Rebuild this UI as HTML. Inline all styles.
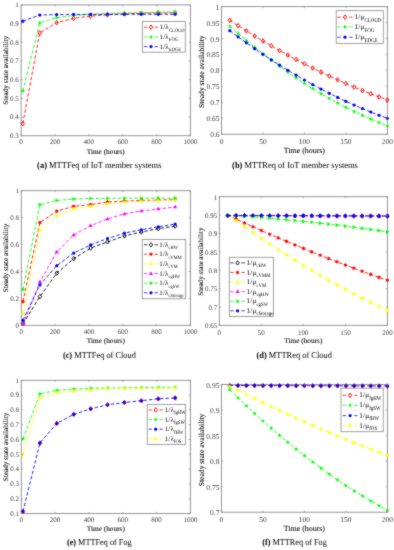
<!DOCTYPE html>
<html><head><meta charset="utf-8"><style>
html,body{margin:0;padding:0;background:#fff;}
svg{display:block;}
text{font-family:"Liberation Serif", serif;text-rendering:geometricPrecision;}
.tk{fill:#3a3a3a;}
.al{fill:#000;stroke:#000;stroke-width:0.08px;}
.lg{fill:#000;letter-spacing:0.2px;}
.lgs{font-size:4.9px;}
.cp{font-size:9.0px;fill:#000;}
</style></head><body>
<svg width="394" height="550" viewBox="0 0 394 550">
<defs><filter id="bl" filterUnits="userSpaceOnUse" x="0" y="0" width="394" height="550" color-interpolation-filters="sRGB"><feConvolveMatrix order="3" kernelMatrix="1 2 1 2 16 2 1 2 1" divisor="28" edgeMode="none"/></filter></defs>
<rect width="394" height="550" fill="#fff"/>
<g filter="url(#bl)">
<rect x="21.1" y="4.9" width="169.3" height="130.85" fill="none" stroke="#8a8a8a" stroke-width="0.9"/>
<path d="M22.79 123.60L39.72 32.94L56.65 22.66L73.58 18.36L90.51 16.12L107.44 14.81L124.37 13.87L141.30 13.31L158.23 12.94L175.16 12.75" fill="none" stroke="#ff0000" stroke-width="0.88" stroke-dasharray="3.4 2.1" opacity="1"/>
<path d="M22.79 121.30L24.45 123.60L22.79 125.90L21.14 123.60Z" fill="none" stroke="#ff0000" stroke-width="0.95"/>
<path d="M39.72 30.64L41.38 32.94L39.72 35.24L38.07 32.94Z" fill="none" stroke="#ff0000" stroke-width="0.95"/>
<path d="M56.65 20.36L58.31 22.66L56.65 24.96L55.00 22.66Z" fill="none" stroke="#ff0000" stroke-width="0.95"/>
<path d="M73.58 16.06L75.24 18.36L73.58 20.66L71.93 18.36Z" fill="none" stroke="#ff0000" stroke-width="0.95"/>
<path d="M90.51 13.82L92.17 16.12L90.51 18.42L88.86 16.12Z" fill="none" stroke="#ff0000" stroke-width="0.95"/>
<path d="M107.44 12.51L109.10 14.81L107.44 17.11L105.79 14.81Z" fill="none" stroke="#ff0000" stroke-width="0.95"/>
<path d="M124.37 11.57L126.03 13.87L124.37 16.17L122.72 13.87Z" fill="none" stroke="#ff0000" stroke-width="0.95"/>
<path d="M141.30 11.01L142.96 13.31L141.30 15.61L139.65 13.31Z" fill="none" stroke="#ff0000" stroke-width="0.95"/>
<path d="M158.23 10.64L159.89 12.94L158.23 15.24L156.58 12.94Z" fill="none" stroke="#ff0000" stroke-width="0.95"/>
<path d="M175.16 10.45L176.82 12.75L175.16 15.05L173.51 12.75Z" fill="none" stroke="#ff0000" stroke-width="0.95"/>
<path d="M22.79 90.89L39.72 23.03L56.65 17.61L73.58 15.55L90.51 14.25L107.44 13.50L124.37 12.94L141.30 12.56L158.23 12.19L175.16 11.82" fill="none" stroke="#00ff00" stroke-width="0.88" stroke-dasharray="3.4 2.1" opacity="1"/>
<path d="M22.79 88.59L23.38 90.08L24.98 90.18L23.74 91.20L24.14 92.75L22.79 91.89L21.44 92.75L21.84 91.20L20.61 90.18L22.21 90.08Z" fill="#00ff00"/>
<path d="M39.72 20.73L40.31 22.22L41.91 22.32L40.67 23.34L41.07 24.89L39.72 24.03L38.37 24.89L38.77 23.34L37.54 22.32L39.14 22.22Z" fill="#00ff00"/>
<path d="M56.65 15.31L57.24 16.80L58.84 16.90L57.60 17.92L58.00 19.47L56.65 18.61L55.30 19.47L55.70 17.92L54.47 16.90L56.07 16.80Z" fill="#00ff00"/>
<path d="M73.58 13.25L74.17 14.75L75.77 14.84L74.53 15.86L74.93 17.42L73.58 16.55L72.23 17.42L72.63 15.86L71.40 14.84L73.00 14.75Z" fill="#00ff00"/>
<path d="M90.51 11.95L91.10 13.44L92.70 13.54L91.46 14.56L91.86 16.11L90.51 15.25L89.16 16.11L89.56 14.56L88.33 13.54L89.93 13.44Z" fill="#00ff00"/>
<path d="M107.44 11.20L108.03 12.69L109.63 12.79L108.39 13.81L108.79 15.36L107.44 14.50L106.09 15.36L106.49 13.81L105.26 12.79L106.86 12.69Z" fill="#00ff00"/>
<path d="M124.37 10.64L124.96 12.13L126.56 12.23L125.32 13.25L125.72 14.80L124.37 13.94L123.02 14.80L123.42 13.25L122.19 12.23L123.79 12.13Z" fill="#00ff00"/>
<path d="M141.30 10.26L141.89 11.76L143.49 11.85L142.25 12.87L142.65 14.42L141.30 13.56L139.95 14.42L140.35 12.87L139.12 11.85L140.72 11.76Z" fill="#00ff00"/>
<path d="M158.23 9.89L158.82 11.38L160.42 11.48L159.18 12.50L159.58 14.05L158.23 13.19L156.88 14.05L157.28 12.50L156.05 11.48L157.65 11.38Z" fill="#00ff00"/>
<path d="M175.16 9.52L175.75 11.01L177.35 11.11L176.11 12.13L176.51 13.68L175.16 12.82L173.81 13.68L174.21 12.13L172.98 11.11L174.58 11.01Z" fill="#00ff00"/>
<path d="M22.79 21.16L39.72 14.99L56.65 14.62L73.58 14.43L90.51 14.43L107.44 14.25L124.37 14.25L141.30 14.25L158.23 14.25L175.16 14.25" fill="none" stroke="#0000ff" stroke-width="0.88" stroke-dasharray="3.4 2.1" opacity="1"/>
<circle cx="22.79" cy="21.16" r="1.60" fill="#0000ff"/>
<circle cx="39.72" cy="14.99" r="1.60" fill="#0000ff"/>
<circle cx="56.65" cy="14.62" r="1.60" fill="#0000ff"/>
<circle cx="73.58" cy="14.43" r="1.60" fill="#0000ff"/>
<circle cx="90.51" cy="14.43" r="1.60" fill="#0000ff"/>
<circle cx="107.44" cy="14.25" r="1.60" fill="#0000ff"/>
<circle cx="124.37" cy="14.25" r="1.60" fill="#0000ff"/>
<circle cx="141.30" cy="14.25" r="1.60" fill="#0000ff"/>
<circle cx="158.23" cy="14.25" r="1.60" fill="#0000ff"/>
<circle cx="175.16" cy="14.25" r="1.60" fill="#0000ff"/>
<path d="M21.10 135.75v-1.6M21.10 4.9v1.6" stroke="#8a8a8a" stroke-width="0.7"/>
<text x="21.10" y="144.35" text-anchor="middle" class="tk" style="font-size:7.0px">0</text>
<path d="M54.96 135.75v-1.6M54.96 4.9v1.6" stroke="#8a8a8a" stroke-width="0.7"/>
<text x="54.96" y="144.35" text-anchor="middle" class="tk" style="font-size:7.0px">200</text>
<path d="M88.82 135.75v-1.6M88.82 4.9v1.6" stroke="#8a8a8a" stroke-width="0.7"/>
<text x="88.82" y="144.35" text-anchor="middle" class="tk" style="font-size:7.0px">400</text>
<path d="M122.68 135.75v-1.6M122.68 4.9v1.6" stroke="#8a8a8a" stroke-width="0.7"/>
<text x="122.68" y="144.35" text-anchor="middle" class="tk" style="font-size:7.0px">600</text>
<path d="M156.54 135.75v-1.6M156.54 4.9v1.6" stroke="#8a8a8a" stroke-width="0.7"/>
<text x="156.54" y="144.35" text-anchor="middle" class="tk" style="font-size:7.0px">800</text>
<path d="M190.40 135.75v-1.6M190.40 4.9v1.6" stroke="#8a8a8a" stroke-width="0.7"/>
<text x="190.40" y="144.35" text-anchor="middle" class="tk" style="font-size:7.0px">1000</text>
<path d="M21.1 135.75h1.6M190.4 135.75h-1.6" stroke="#8a8a8a" stroke-width="0.7"/>
<text x="18.80" y="138.05" text-anchor="end" class="tk" style="font-size:7.0px">0.3</text>
<path d="M21.1 117.06h1.6M190.4 117.06h-1.6" stroke="#8a8a8a" stroke-width="0.7"/>
<text x="18.80" y="119.36" text-anchor="end" class="tk" style="font-size:7.0px">0.4</text>
<path d="M21.1 98.36h1.6M190.4 98.36h-1.6" stroke="#8a8a8a" stroke-width="0.7"/>
<text x="18.80" y="100.66" text-anchor="end" class="tk" style="font-size:7.0px">0.5</text>
<path d="M21.1 79.67h1.6M190.4 79.67h-1.6" stroke="#8a8a8a" stroke-width="0.7"/>
<text x="18.80" y="81.97" text-anchor="end" class="tk" style="font-size:7.0px">0.6</text>
<path d="M21.1 60.98h1.6M190.4 60.98h-1.6" stroke="#8a8a8a" stroke-width="0.7"/>
<text x="18.80" y="63.28" text-anchor="end" class="tk" style="font-size:7.0px">0.7</text>
<path d="M21.1 42.29h1.6M190.4 42.29h-1.6" stroke="#8a8a8a" stroke-width="0.7"/>
<text x="18.80" y="44.59" text-anchor="end" class="tk" style="font-size:7.0px">0.8</text>
<path d="M21.1 23.59h1.6M190.4 23.59h-1.6" stroke="#8a8a8a" stroke-width="0.7"/>
<text x="18.80" y="25.89" text-anchor="end" class="tk" style="font-size:7.0px">0.9</text>
<path d="M21.1 4.90h1.6M190.4 4.90h-1.6" stroke="#8a8a8a" stroke-width="0.7"/>
<text x="18.80" y="7.20" text-anchor="end" class="tk" style="font-size:7.0px">1</text>
<text x="105.75" y="153.55" text-anchor="middle" class="al" style="font-size:7.3px">Time (hours)</text>
<text transform="translate(7.50 70.33) rotate(-90)" x="0" y="0" text-anchor="middle" class="al" style="font-size:7.2px">Steady state availability</text>
<rect x="142.3" y="21.4" width="43.0" height="30.800000000000004" fill="#fff" stroke="#8a8a8a" stroke-width="0.8"/>
<path d="M144.00 27.20h3.4M154.60 27.20H158.00" stroke="#ff0000" stroke-width="0.9" opacity="0.85"/>
<path d="M151.00 24.90L152.66 27.20L151.00 29.50L149.34 27.20Z" fill="none" stroke="#ff0000" stroke-width="0.95"/>
<text x="159.60" y="29.20" class="lg" style="font-size:6.9px">1/λ<tspan dy="2.4" style="font-size:5.17px;letter-spacing:0" textLength="15.50" lengthAdjust="spacingAndGlyphs">CLOUD</tspan></text>
<path d="M144.00 37.00h3.4M154.60 37.00H158.00" stroke="#00ff00" stroke-width="0.9" opacity="0.85"/>
<path d="M151.00 34.70L151.59 36.19L153.19 36.29L151.95 37.31L152.35 38.86L151.00 38.00L149.65 38.86L150.05 37.31L148.81 36.29L150.41 36.19Z" fill="#00ff00"/>
<text x="159.60" y="39.00" class="lg" style="font-size:6.9px">1/λ<tspan dy="2.4" style="font-size:5.17px;letter-spacing:0" textLength="9.00" lengthAdjust="spacingAndGlyphs">FOG</tspan></text>
<path d="M144.00 46.60h3.4M154.60 46.60H158.00" stroke="#0000ff" stroke-width="0.9" opacity="0.85"/>
<circle cx="151.00" cy="46.60" r="1.60" fill="#0000ff"/>
<text x="159.60" y="48.60" class="lg" style="font-size:6.9px">1/λ<tspan dy="2.4" style="font-size:5.17px;letter-spacing:0" textLength="12.00" lengthAdjust="spacingAndGlyphs">EDGE</tspan></text>
<text x="37.10" y="168.20" class="cp" textLength="124.40" lengthAdjust="spacingAndGlyphs"><tspan font-weight="bold">(a)</tspan> MTTFeq of IoT member systems</text>
<rect x="221.5" y="6.6" width="165.85000000000002" height="127.6" fill="none" stroke="#8a8a8a" stroke-width="0.9"/>
<path d="M229.79 20.31L238.09 25.67L246.38 30.90L254.67 36.00L262.96 40.97L271.25 45.81L279.55 50.52L287.84 55.11L296.13 59.56L304.43 63.88L312.72 68.07L321.01 72.14L329.30 76.07L337.60 79.87L345.89 83.54L354.18 87.09L362.47 90.50L370.76 93.78L379.06 96.93L387.35 99.96" fill="none" stroke="#ff0000" stroke-width="0.88" stroke-dasharray="3.4 2.1" opacity="1"/>
<path d="M229.79 18.01L231.45 20.31L229.79 22.61L228.14 20.31Z" fill="none" stroke="#ff0000" stroke-width="0.95"/>
<path d="M238.09 23.37L239.74 25.67L238.09 27.97L236.43 25.67Z" fill="none" stroke="#ff0000" stroke-width="0.95"/>
<path d="M246.38 28.60L248.03 30.90L246.38 33.20L244.72 30.90Z" fill="none" stroke="#ff0000" stroke-width="0.95"/>
<path d="M254.67 33.70L256.33 36.00L254.67 38.30L253.01 36.00Z" fill="none" stroke="#ff0000" stroke-width="0.95"/>
<path d="M262.96 38.67L264.62 40.97L262.96 43.27L261.31 40.97Z" fill="none" stroke="#ff0000" stroke-width="0.95"/>
<path d="M271.25 43.51L272.91 45.81L271.25 48.11L269.60 45.81Z" fill="none" stroke="#ff0000" stroke-width="0.95"/>
<path d="M279.55 48.22L281.20 50.52L279.55 52.82L277.89 50.52Z" fill="none" stroke="#ff0000" stroke-width="0.95"/>
<path d="M287.84 52.81L289.50 55.11L287.84 57.41L286.18 55.11Z" fill="none" stroke="#ff0000" stroke-width="0.95"/>
<path d="M296.13 57.26L297.79 59.56L296.13 61.86L294.48 59.56Z" fill="none" stroke="#ff0000" stroke-width="0.95"/>
<path d="M304.43 61.58L306.08 63.88L304.43 66.18L302.77 63.88Z" fill="none" stroke="#ff0000" stroke-width="0.95"/>
<path d="M312.72 65.77L314.37 68.07L312.72 70.37L311.06 68.07Z" fill="none" stroke="#ff0000" stroke-width="0.95"/>
<path d="M321.01 69.84L322.67 72.14L321.01 74.44L319.35 72.14Z" fill="none" stroke="#ff0000" stroke-width="0.95"/>
<path d="M329.30 73.77L330.96 76.07L329.30 78.37L327.65 76.07Z" fill="none" stroke="#ff0000" stroke-width="0.95"/>
<path d="M337.60 77.57L339.25 79.87L337.60 82.17L335.94 79.87Z" fill="none" stroke="#ff0000" stroke-width="0.95"/>
<path d="M345.89 81.24L347.54 83.54L345.89 85.84L344.23 83.54Z" fill="none" stroke="#ff0000" stroke-width="0.95"/>
<path d="M354.18 84.79L355.84 87.09L354.18 89.39L352.52 87.09Z" fill="none" stroke="#ff0000" stroke-width="0.95"/>
<path d="M362.47 88.20L364.13 90.50L362.47 92.80L360.82 90.50Z" fill="none" stroke="#ff0000" stroke-width="0.95"/>
<path d="M370.76 91.48L372.42 93.78L370.76 96.08L369.11 93.78Z" fill="none" stroke="#ff0000" stroke-width="0.95"/>
<path d="M379.06 94.63L380.71 96.93L379.06 99.23L377.40 96.93Z" fill="none" stroke="#ff0000" stroke-width="0.95"/>
<path d="M387.35 97.66L389.01 99.96L387.35 102.26L385.69 99.96Z" fill="none" stroke="#ff0000" stroke-width="0.95"/>
<path d="M229.79 26.22L238.09 33.45L246.38 40.46L254.67 47.25L262.96 53.82L271.25 60.17L279.55 66.29L287.84 72.20L296.13 77.88L304.43 83.35L312.72 88.59L321.01 93.61L329.30 98.40L337.60 102.98L345.89 107.34L354.18 111.47L362.47 115.39L370.76 119.08L379.06 122.55L387.35 125.80" fill="none" stroke="#00ff00" stroke-width="0.88" stroke-dasharray="3.4 2.1" opacity="1"/>
<path d="M229.79 23.92L230.38 25.41L231.98 25.51L230.74 26.53L231.14 28.08L229.79 27.22L228.44 28.08L228.84 26.53L227.61 25.51L229.20 25.41Z" fill="#00ff00"/>
<path d="M238.09 31.15L238.67 32.64L240.27 32.74L239.04 33.76L239.44 35.31L238.09 34.45L236.73 35.31L237.13 33.76L235.90 32.74L237.50 32.64Z" fill="#00ff00"/>
<path d="M246.38 38.16L246.97 39.65L248.56 39.75L247.33 40.77L247.73 42.32L246.38 41.46L245.03 42.32L245.43 40.77L244.19 39.75L245.79 39.65Z" fill="#00ff00"/>
<path d="M254.67 44.95L255.26 46.44L256.86 46.54L255.62 47.56L256.02 49.11L254.67 48.25L253.32 49.11L253.72 47.56L252.48 46.54L254.08 46.44Z" fill="#00ff00"/>
<path d="M262.96 51.52L263.55 53.01L265.15 53.11L263.91 54.13L264.31 55.68L262.96 54.82L261.61 55.68L262.01 54.13L260.78 53.11L262.37 53.01Z" fill="#00ff00"/>
<path d="M271.25 57.87L271.84 59.36L273.44 59.46L272.21 60.48L272.61 62.03L271.25 61.17L269.90 62.03L270.30 60.48L269.07 59.46L270.67 59.36Z" fill="#00ff00"/>
<path d="M279.55 63.99L280.14 65.49L281.73 65.58L280.50 66.60L280.90 68.16L279.55 67.29L278.20 68.16L278.60 66.60L277.36 65.58L278.96 65.49Z" fill="#00ff00"/>
<path d="M287.84 69.90L288.43 71.39L290.03 71.49L288.79 72.51L289.19 74.06L287.84 73.20L286.49 74.06L286.89 72.51L285.65 71.49L287.25 71.39Z" fill="#00ff00"/>
<path d="M296.13 75.58L296.72 77.07L298.32 77.17L297.08 78.19L297.48 79.74L296.13 78.88L294.78 79.74L295.18 78.19L293.95 77.17L295.54 77.07Z" fill="#00ff00"/>
<path d="M304.43 81.05L305.01 82.54L306.61 82.63L305.38 83.65L305.78 85.21L304.43 84.35L303.07 85.21L303.47 83.65L302.24 82.63L303.84 82.54Z" fill="#00ff00"/>
<path d="M312.72 86.29L313.31 87.78L314.90 87.88L313.67 88.90L314.07 90.45L312.72 89.59L311.37 90.45L311.77 88.90L310.53 87.88L312.13 87.78Z" fill="#00ff00"/>
<path d="M321.01 91.31L321.60 92.80L323.20 92.90L321.96 93.91L322.36 95.47L321.01 94.61L319.66 95.47L320.06 93.91L318.82 92.90L320.42 92.80Z" fill="#00ff00"/>
<path d="M329.30 96.10L329.89 97.60L331.49 97.69L330.25 98.71L330.65 100.27L329.30 99.40L327.95 100.27L328.35 98.71L327.12 97.69L328.71 97.60Z" fill="#00ff00"/>
<path d="M337.60 100.68L338.18 102.17L339.78 102.27L338.55 103.29L338.95 104.84L337.60 103.98L336.24 104.84L336.64 103.29L335.41 102.27L337.01 102.17Z" fill="#00ff00"/>
<path d="M345.89 105.04L346.48 106.53L348.07 106.63L346.84 107.65L347.24 109.20L345.89 108.34L344.54 109.20L344.94 107.65L343.70 106.63L345.30 106.53Z" fill="#00ff00"/>
<path d="M354.18 109.17L354.77 110.66L356.37 110.76L355.13 111.78L355.53 113.33L354.18 112.47L352.83 113.33L353.23 111.78L351.99 110.76L353.59 110.66Z" fill="#00ff00"/>
<path d="M362.47 113.09L363.06 114.58L364.66 114.67L363.42 115.69L363.82 117.25L362.47 116.39L361.12 117.25L361.52 115.69L360.29 114.67L361.88 114.58Z" fill="#00ff00"/>
<path d="M370.76 116.78L371.35 118.27L372.95 118.37L371.72 119.39L372.12 120.94L370.76 120.08L369.41 120.94L369.81 119.39L368.58 118.37L370.18 118.27Z" fill="#00ff00"/>
<path d="M379.06 120.25L379.65 121.74L381.24 121.84L380.01 122.86L380.41 124.41L379.06 123.55L377.71 124.41L378.11 122.86L376.87 121.84L378.47 121.74Z" fill="#00ff00"/>
<path d="M387.35 123.50L387.94 124.99L389.54 125.09L388.30 126.11L388.70 127.66L387.35 126.80L386.00 127.66L386.40 126.11L385.16 125.09L386.76 124.99Z" fill="#00ff00"/>
<path d="M229.79 30.65L238.09 36.83L246.38 42.84L254.67 48.67L262.96 54.33L271.25 59.81L279.55 65.12L287.84 70.25L296.13 75.21L304.43 80.00L312.72 84.61L321.01 89.05L329.30 93.31L337.60 97.40L345.89 101.31L354.18 105.05L362.47 108.62L370.76 112.01L379.06 115.23L387.35 118.27" fill="none" stroke="#0000ff" stroke-width="0.88" stroke-dasharray="3.4 2.1" opacity="1"/>
<circle cx="229.79" cy="30.65" r="1.60" fill="#0000ff"/>
<circle cx="238.09" cy="36.83" r="1.60" fill="#0000ff"/>
<circle cx="246.38" cy="42.84" r="1.60" fill="#0000ff"/>
<circle cx="254.67" cy="48.67" r="1.60" fill="#0000ff"/>
<circle cx="262.96" cy="54.33" r="1.60" fill="#0000ff"/>
<circle cx="271.25" cy="59.81" r="1.60" fill="#0000ff"/>
<circle cx="279.55" cy="65.12" r="1.60" fill="#0000ff"/>
<circle cx="287.84" cy="70.25" r="1.60" fill="#0000ff"/>
<circle cx="296.13" cy="75.21" r="1.60" fill="#0000ff"/>
<circle cx="304.43" cy="80.00" r="1.60" fill="#0000ff"/>
<circle cx="312.72" cy="84.61" r="1.60" fill="#0000ff"/>
<circle cx="321.01" cy="89.05" r="1.60" fill="#0000ff"/>
<circle cx="329.30" cy="93.31" r="1.60" fill="#0000ff"/>
<circle cx="337.60" cy="97.40" r="1.60" fill="#0000ff"/>
<circle cx="345.89" cy="101.31" r="1.60" fill="#0000ff"/>
<circle cx="354.18" cy="105.05" r="1.60" fill="#0000ff"/>
<circle cx="362.47" cy="108.62" r="1.60" fill="#0000ff"/>
<circle cx="370.76" cy="112.01" r="1.60" fill="#0000ff"/>
<circle cx="379.06" cy="115.23" r="1.60" fill="#0000ff"/>
<circle cx="387.35" cy="118.27" r="1.60" fill="#0000ff"/>
<path d="M221.50 134.2v-1.6M221.50 6.6v1.6" stroke="#8a8a8a" stroke-width="0.7"/>
<text x="221.50" y="144.00" text-anchor="middle" class="tk" style="font-size:7.5px">0</text>
<path d="M262.96 134.2v-1.6M262.96 6.6v1.6" stroke="#8a8a8a" stroke-width="0.7"/>
<text x="262.96" y="144.00" text-anchor="middle" class="tk" style="font-size:7.5px">50</text>
<path d="M304.43 134.2v-1.6M304.43 6.6v1.6" stroke="#8a8a8a" stroke-width="0.7"/>
<text x="304.43" y="144.00" text-anchor="middle" class="tk" style="font-size:7.5px">100</text>
<path d="M345.89 134.2v-1.6M345.89 6.6v1.6" stroke="#8a8a8a" stroke-width="0.7"/>
<text x="345.89" y="144.00" text-anchor="middle" class="tk" style="font-size:7.5px">150</text>
<path d="M387.35 134.2v-1.6M387.35 6.6v1.6" stroke="#8a8a8a" stroke-width="0.7"/>
<text x="387.35" y="144.00" text-anchor="middle" class="tk" style="font-size:7.5px">200</text>
<path d="M221.5 134.20h1.6M387.35 134.20h-1.6" stroke="#8a8a8a" stroke-width="0.7"/>
<text x="219.50" y="137.20" text-anchor="end" class="tk" style="font-size:7.5px">0.6</text>
<path d="M221.5 118.25h1.6M387.35 118.25h-1.6" stroke="#8a8a8a" stroke-width="0.7"/>
<text x="219.50" y="121.25" text-anchor="end" class="tk" style="font-size:7.5px">0.65</text>
<path d="M221.5 102.30h1.6M387.35 102.30h-1.6" stroke="#8a8a8a" stroke-width="0.7"/>
<text x="219.50" y="105.30" text-anchor="end" class="tk" style="font-size:7.5px">0.7</text>
<path d="M221.5 86.35h1.6M387.35 86.35h-1.6" stroke="#8a8a8a" stroke-width="0.7"/>
<text x="219.50" y="89.35" text-anchor="end" class="tk" style="font-size:7.5px">0.75</text>
<path d="M221.5 70.40h1.6M387.35 70.40h-1.6" stroke="#8a8a8a" stroke-width="0.7"/>
<text x="219.50" y="73.40" text-anchor="end" class="tk" style="font-size:7.5px">0.8</text>
<path d="M221.5 54.45h1.6M387.35 54.45h-1.6" stroke="#8a8a8a" stroke-width="0.7"/>
<text x="219.50" y="57.45" text-anchor="end" class="tk" style="font-size:7.5px">0.85</text>
<path d="M221.5 38.50h1.6M387.35 38.50h-1.6" stroke="#8a8a8a" stroke-width="0.7"/>
<text x="219.50" y="41.50" text-anchor="end" class="tk" style="font-size:7.5px">0.9</text>
<path d="M221.5 22.55h1.6M387.35 22.55h-1.6" stroke="#8a8a8a" stroke-width="0.7"/>
<text x="219.50" y="25.55" text-anchor="end" class="tk" style="font-size:7.5px">0.95</text>
<path d="M221.5 6.60h1.6M387.35 6.60h-1.6" stroke="#8a8a8a" stroke-width="0.7"/>
<text x="219.50" y="9.60" text-anchor="end" class="tk" style="font-size:7.5px">1</text>
<text x="304.43" y="153.40" text-anchor="middle" class="al" style="font-size:7.9px">Time (hours)</text>
<text transform="translate(203.80 71.70) rotate(-90)" x="0" y="0" text-anchor="middle" class="al" style="font-size:7.6px">Steady state availability</text>
<rect x="336.2" y="10.7" width="47.10000000000002" height="32.8" fill="#fff" stroke="#8a8a8a" stroke-width="0.8"/>
<path d="M337.30 17.20h3.4M349.30 17.20H352.70" stroke="#ff0000" stroke-width="0.9" opacity="0.85"/>
<path d="M345.00 14.90L346.66 17.20L345.00 19.50L343.34 17.20Z" fill="none" stroke="#ff0000" stroke-width="0.95"/>
<text x="354.40" y="19.30" class="lg" style="font-size:7.2px">1/μ<tspan dy="2.5" style="font-size:5.63px;letter-spacing:0" textLength="16.88" lengthAdjust="spacingAndGlyphs">CLOUD</tspan></text>
<path d="M337.30 26.90h3.4M349.30 26.90H352.70" stroke="#00ff00" stroke-width="0.9" opacity="0.85"/>
<path d="M345.00 24.60L345.59 26.09L347.19 26.19L345.95 27.21L346.35 28.76L345.00 27.90L343.65 28.76L344.05 27.21L342.81 26.19L344.41 26.09Z" fill="#00ff00"/>
<text x="354.40" y="29.00" class="lg" style="font-size:7.2px">1/μ<tspan dy="2.5" style="font-size:5.63px;letter-spacing:0" textLength="9.80" lengthAdjust="spacingAndGlyphs">FOG</tspan></text>
<path d="M337.30 37.20h3.4M349.30 37.20H352.70" stroke="#0000ff" stroke-width="0.9" opacity="0.85"/>
<circle cx="345.00" cy="37.20" r="1.60" fill="#0000ff"/>
<text x="354.40" y="39.30" class="lg" style="font-size:7.2px">1/μ<tspan dy="2.5" style="font-size:5.63px;letter-spacing:0" textLength="13.06" lengthAdjust="spacingAndGlyphs">EDGE</tspan></text>
<text x="232.10" y="168.20" class="cp" textLength="125.80" lengthAdjust="spacingAndGlyphs"><tspan font-weight="bold">(b)</tspan> MTTReq of IoT member systems</text>
<rect x="21.3" y="190.7" width="169.1" height="134.65000000000003" fill="none" stroke="#8a8a8a" stroke-width="0.9"/>
<path d="M22.99 323.73L39.90 296.53L56.81 273.11L73.72 258.70L90.63 248.06L107.54 241.87L124.45 235.94L141.36 232.04L158.27 228.67L175.18 226.11" fill="none" stroke="#000000" stroke-width="0.88" stroke-dasharray="3.4 2.1" opacity="1"/>
<path d="M22.99 321.53L24.75 323.73L22.99 325.93L21.23 323.73Z" fill="none" stroke="#000000" stroke-width="0.9"/>
<path d="M39.90 294.33L41.66 296.53L39.90 298.73L38.14 296.53Z" fill="none" stroke="#000000" stroke-width="0.9"/>
<path d="M56.81 270.91L58.57 273.11L56.81 275.31L55.05 273.11Z" fill="none" stroke="#000000" stroke-width="0.9"/>
<path d="M73.72 256.50L75.48 258.70L73.72 260.90L71.96 258.70Z" fill="none" stroke="#000000" stroke-width="0.9"/>
<path d="M90.63 245.86L92.39 248.06L90.63 250.26L88.87 248.06Z" fill="none" stroke="#000000" stroke-width="0.9"/>
<path d="M107.54 239.67L109.30 241.87L107.54 244.07L105.78 241.87Z" fill="none" stroke="#000000" stroke-width="0.9"/>
<path d="M124.45 233.74L126.21 235.94L124.45 238.14L122.69 235.94Z" fill="none" stroke="#000000" stroke-width="0.9"/>
<path d="M141.36 229.84L143.12 232.04L141.36 234.24L139.60 232.04Z" fill="none" stroke="#000000" stroke-width="0.9"/>
<path d="M158.27 226.47L160.03 228.67L158.27 230.87L156.51 228.67Z" fill="none" stroke="#000000" stroke-width="0.9"/>
<path d="M175.18 223.91L176.94 226.11L175.18 228.31L173.42 226.11Z" fill="none" stroke="#000000" stroke-width="0.9"/>
<path d="M22.99 301.65L39.90 222.48L56.81 211.17L73.72 206.32L90.63 204.57L107.54 202.01L124.45 201.20L141.36 200.39L158.27 200.13L175.18 199.59" fill="none" stroke="#ff0000" stroke-width="0.88" stroke-dasharray="3.4 2.1" opacity="1"/>
<path d="M22.99 299.35L23.59 300.61L24.98 300.50L24.19 301.65L24.98 302.80L23.59 302.69L22.99 303.95L22.39 302.69L21.00 302.80L21.79 301.65L21.00 300.50L22.39 300.61Z" fill="#ff0000"/>
<path d="M39.90 220.18L40.50 221.44L41.89 221.33L41.10 222.48L41.89 223.63L40.50 223.52L39.90 224.78L39.30 223.52L37.91 223.63L38.70 222.48L37.91 221.33L39.30 221.44Z" fill="#ff0000"/>
<path d="M56.81 208.87L57.41 210.13L58.80 210.02L58.01 211.17L58.80 212.32L57.41 212.21L56.81 213.47L56.21 212.21L54.82 212.32L55.61 211.17L54.82 210.02L56.21 210.13Z" fill="#ff0000"/>
<path d="M73.72 204.02L74.32 205.28L75.71 205.17L74.92 206.32L75.71 207.47L74.32 207.36L73.72 208.62L73.12 207.36L71.73 207.47L72.52 206.32L71.73 205.17L73.12 205.28Z" fill="#ff0000"/>
<path d="M90.63 202.27L91.23 203.53L92.62 203.42L91.83 204.57L92.62 205.72L91.23 205.61L90.63 206.87L90.03 205.61L88.64 205.72L89.43 204.57L88.64 203.42L90.03 203.53Z" fill="#ff0000"/>
<path d="M107.54 199.71L108.14 200.97L109.53 200.86L108.74 202.01L109.53 203.16L108.14 203.05L107.54 204.31L106.94 203.05L105.55 203.16L106.34 202.01L105.55 200.86L106.94 200.97Z" fill="#ff0000"/>
<path d="M124.45 198.90L125.05 200.16L126.44 200.05L125.65 201.20L126.44 202.35L125.05 202.24L124.45 203.50L123.85 202.24L122.46 202.35L123.25 201.20L122.46 200.05L123.85 200.16Z" fill="#ff0000"/>
<path d="M141.36 198.09L141.96 199.36L143.35 199.24L142.56 200.39L143.35 201.54L141.96 201.43L141.36 202.69L140.76 201.43L139.37 201.54L140.16 200.39L139.37 199.24L140.76 199.36Z" fill="#ff0000"/>
<path d="M158.27 197.83L158.87 199.09L160.26 198.98L159.47 200.13L160.26 201.28L158.87 201.16L158.27 202.43L157.67 201.16L156.28 201.28L157.07 200.13L156.28 198.98L157.67 199.09Z" fill="#ff0000"/>
<path d="M175.18 197.29L175.78 198.55L177.17 198.44L176.38 199.59L177.17 200.74L175.78 200.63L175.18 201.89L174.58 200.63L173.19 200.74L173.98 199.59L173.19 198.44L174.58 198.55Z" fill="#ff0000"/>
<path d="M22.99 313.50L39.90 230.29L56.81 215.74L73.72 208.88L90.63 206.18L107.54 203.63L124.45 202.01L141.36 201.20L158.27 200.66L175.18 200.26" fill="none" stroke="#ffff00" stroke-width="0.88" stroke-dasharray="3.4 2.1" opacity="1"/>
<circle cx="22.99" cy="313.50" r="1.60" fill="#ffff00"/>
<circle cx="39.90" cy="230.29" r="1.60" fill="#ffff00"/>
<circle cx="56.81" cy="215.74" r="1.60" fill="#ffff00"/>
<circle cx="73.72" cy="208.88" r="1.60" fill="#ffff00"/>
<circle cx="90.63" cy="206.18" r="1.60" fill="#ffff00"/>
<circle cx="107.54" cy="203.63" r="1.60" fill="#ffff00"/>
<circle cx="124.45" cy="202.01" r="1.60" fill="#ffff00"/>
<circle cx="141.36" cy="201.20" r="1.60" fill="#ffff00"/>
<circle cx="158.27" cy="200.66" r="1.60" fill="#ffff00"/>
<circle cx="175.18" cy="200.26" r="1.60" fill="#ffff00"/>
<path d="M22.99 324.54L39.90 281.86L56.81 251.97L73.72 234.87L90.63 225.71L107.54 218.98L124.45 213.86L141.36 210.90L158.27 209.01L175.18 206.99" fill="none" stroke="#ff00ff" stroke-width="0.88" stroke-dasharray="3.4 2.1" opacity="1"/>
<path d="M22.99 322.34L25.08 325.86L20.90 325.86Z" fill="#ff00ff"/>
<path d="M39.90 279.66L41.99 283.18L37.81 283.18Z" fill="#ff00ff"/>
<path d="M56.81 249.77L58.90 253.29L54.72 253.29Z" fill="#ff00ff"/>
<path d="M73.72 232.67L75.81 236.19L71.63 236.19Z" fill="#ff00ff"/>
<path d="M90.63 223.51L92.72 227.03L88.54 227.03Z" fill="#ff00ff"/>
<path d="M107.54 216.78L109.63 220.30L105.45 220.30Z" fill="#ff00ff"/>
<path d="M124.45 211.66L126.54 215.18L122.36 215.18Z" fill="#ff00ff"/>
<path d="M141.36 208.70L143.45 212.22L139.27 212.22Z" fill="#ff00ff"/>
<path d="M158.27 206.81L160.36 210.33L156.18 210.33Z" fill="#ff00ff"/>
<path d="M175.18 204.79L177.27 208.31L173.09 208.31Z" fill="#ff00ff"/>
<path d="M22.99 289.53L39.90 204.70L56.81 200.53L73.72 199.05L90.63 198.51L107.54 198.38L124.45 198.24L141.36 198.24L158.27 198.11L175.18 198.11" fill="none" stroke="#00ff00" stroke-width="0.88" stroke-dasharray="3.4 2.1" opacity="1"/>
<path d="M25.19 289.53L21.67 287.44L21.67 291.62Z" fill="#00ff00"/>
<path d="M42.10 204.70L38.58 202.61L38.58 206.79Z" fill="#00ff00"/>
<path d="M59.01 200.53L55.49 198.44L55.49 202.62Z" fill="#00ff00"/>
<path d="M75.92 199.05L72.40 196.96L72.40 201.14Z" fill="#00ff00"/>
<path d="M92.83 198.51L89.31 196.42L89.31 200.60Z" fill="#00ff00"/>
<path d="M109.74 198.38L106.22 196.29L106.22 200.47Z" fill="#00ff00"/>
<path d="M126.65 198.24L123.13 196.15L123.13 200.33Z" fill="#00ff00"/>
<path d="M143.56 198.24L140.04 196.15L140.04 200.33Z" fill="#00ff00"/>
<path d="M160.47 198.11L156.95 196.02L156.95 200.20Z" fill="#00ff00"/>
<path d="M177.38 198.11L173.86 196.02L173.86 200.20Z" fill="#00ff00"/>
<path d="M22.99 320.23L39.90 284.96L56.81 265.70L73.72 253.04L90.63 244.96L107.54 238.50L124.45 233.11L141.36 229.75L158.27 226.79L175.18 224.09" fill="none" stroke="#0000ff" stroke-width="0.88" stroke-dasharray="3.4 2.1" opacity="1"/>
<circle cx="22.99" cy="320.23" r="1.60" fill="#0000ff"/>
<circle cx="39.90" cy="284.96" r="1.60" fill="#0000ff"/>
<circle cx="56.81" cy="265.70" r="1.60" fill="#0000ff"/>
<circle cx="73.72" cy="253.04" r="1.60" fill="#0000ff"/>
<circle cx="90.63" cy="244.96" r="1.60" fill="#0000ff"/>
<circle cx="107.54" cy="238.50" r="1.60" fill="#0000ff"/>
<circle cx="124.45" cy="233.11" r="1.60" fill="#0000ff"/>
<circle cx="141.36" cy="229.75" r="1.60" fill="#0000ff"/>
<circle cx="158.27" cy="226.79" r="1.60" fill="#0000ff"/>
<circle cx="175.18" cy="224.09" r="1.60" fill="#0000ff"/>
<path d="M21.30 325.35v-1.6M21.30 190.7v1.6" stroke="#8a8a8a" stroke-width="0.7"/>
<text x="21.30" y="333.95" text-anchor="middle" class="tk" style="font-size:7.0px">0</text>
<path d="M55.12 325.35v-1.6M55.12 190.7v1.6" stroke="#8a8a8a" stroke-width="0.7"/>
<text x="55.12" y="333.95" text-anchor="middle" class="tk" style="font-size:7.0px">200</text>
<path d="M88.94 325.35v-1.6M88.94 190.7v1.6" stroke="#8a8a8a" stroke-width="0.7"/>
<text x="88.94" y="333.95" text-anchor="middle" class="tk" style="font-size:7.0px">400</text>
<path d="M122.76 325.35v-1.6M122.76 190.7v1.6" stroke="#8a8a8a" stroke-width="0.7"/>
<text x="122.76" y="333.95" text-anchor="middle" class="tk" style="font-size:7.0px">600</text>
<path d="M156.58 325.35v-1.6M156.58 190.7v1.6" stroke="#8a8a8a" stroke-width="0.7"/>
<text x="156.58" y="333.95" text-anchor="middle" class="tk" style="font-size:7.0px">800</text>
<path d="M190.40 325.35v-1.6M190.40 190.7v1.6" stroke="#8a8a8a" stroke-width="0.7"/>
<text x="190.40" y="333.95" text-anchor="middle" class="tk" style="font-size:7.0px">1000</text>
<path d="M21.3 325.35h1.6M190.4 325.35h-1.6" stroke="#8a8a8a" stroke-width="0.7"/>
<text x="19.00" y="327.65" text-anchor="end" class="tk" style="font-size:7.0px">0</text>
<path d="M21.3 298.42h1.6M190.4 298.42h-1.6" stroke="#8a8a8a" stroke-width="0.7"/>
<text x="19.00" y="300.72" text-anchor="end" class="tk" style="font-size:7.0px">0.2</text>
<path d="M21.3 271.49h1.6M190.4 271.49h-1.6" stroke="#8a8a8a" stroke-width="0.7"/>
<text x="19.00" y="273.79" text-anchor="end" class="tk" style="font-size:7.0px">0.4</text>
<path d="M21.3 244.56h1.6M190.4 244.56h-1.6" stroke="#8a8a8a" stroke-width="0.7"/>
<text x="19.00" y="246.86" text-anchor="end" class="tk" style="font-size:7.0px">0.6</text>
<path d="M21.3 217.63h1.6M190.4 217.63h-1.6" stroke="#8a8a8a" stroke-width="0.7"/>
<text x="19.00" y="219.93" text-anchor="end" class="tk" style="font-size:7.0px">0.8</text>
<path d="M21.3 190.70h1.6M190.4 190.70h-1.6" stroke="#8a8a8a" stroke-width="0.7"/>
<text x="19.00" y="193.00" text-anchor="end" class="tk" style="font-size:7.0px">1</text>
<text x="105.85" y="343.15" text-anchor="middle" class="al" style="font-size:7.3px">Time (hours)</text>
<text transform="translate(7.50 258.02) rotate(-90)" x="0" y="0" text-anchor="middle" class="al" style="font-size:7.2px">Steady state availability</text>
<rect x="142.2" y="239.4" width="43.5" height="59.400000000000006" fill="#fff" stroke="#8a8a8a" stroke-width="0.8"/>
<path d="M144.00 244.80h3.4M154.60 244.80H158.00" stroke="#000000" stroke-width="0.9" opacity="0.85"/>
<path d="M151.00 242.60L152.76 244.80L151.00 247.00L149.24 244.80Z" fill="none" stroke="#000000" stroke-width="0.9"/>
<text x="159.30" y="246.80" class="lg" style="font-size:6.9px">1/λ<tspan dy="2.3" style="font-size:5.06px;letter-spacing:0" textLength="9.28" lengthAdjust="spacingAndGlyphs">cHW</tspan></text>
<path d="M144.00 254.20h3.4M154.60 254.20H158.00" stroke="#ff0000" stroke-width="0.9" opacity="0.85"/>
<path d="M151.00 251.90L151.60 253.16L152.99 253.05L152.20 254.20L152.99 255.35L151.60 255.24L151.00 256.50L150.40 255.24L149.01 255.35L149.80 254.20L149.01 253.05L150.40 253.16Z" fill="#ff0000"/>
<text x="159.30" y="256.20" class="lg" style="font-size:6.9px">1/λ<tspan dy="2.3" style="font-size:5.06px;letter-spacing:0" textLength="12.96" lengthAdjust="spacingAndGlyphs">cVMM</tspan></text>
<path d="M144.00 263.80h3.4M154.60 263.80H158.00" stroke="#ffff00" stroke-width="0.9" opacity="0.85"/>
<circle cx="151.00" cy="263.80" r="1.60" fill="#ffff00"/>
<text x="159.30" y="265.80" class="lg" style="font-size:6.9px">1/λ<tspan dy="2.3" style="font-size:5.06px;letter-spacing:0" textLength="9.04" lengthAdjust="spacingAndGlyphs">cVM</tspan></text>
<path d="M144.00 273.60h3.4M154.60 273.60H158.00" stroke="#ff00ff" stroke-width="0.9" opacity="0.85"/>
<path d="M151.00 271.40L153.09 274.92L148.91 274.92Z" fill="#ff00ff"/>
<text x="159.30" y="275.60" class="lg" style="font-size:6.9px">1/λ<tspan dy="2.3" style="font-size:5.06px;letter-spacing:0" textLength="11.48" lengthAdjust="spacingAndGlyphs">cgHW</tspan></text>
<path d="M144.00 283.20h3.4M154.60 283.20H158.00" stroke="#00ff00" stroke-width="0.9" opacity="0.85"/>
<path d="M153.20 283.20L149.68 281.11L149.68 285.29Z" fill="#00ff00"/>
<text x="159.30" y="285.20" class="lg" style="font-size:6.9px">1/λ<tspan dy="2.3" style="font-size:5.06px;letter-spacing:0" textLength="10.75" lengthAdjust="spacingAndGlyphs">cgSW</tspan></text>
<path d="M144.00 292.80h3.4M154.60 292.80H158.00" stroke="#0000ff" stroke-width="0.9" opacity="0.85"/>
<circle cx="151.00" cy="292.80" r="1.60" fill="#0000ff"/>
<text x="159.30" y="294.80" class="lg" style="font-size:6.9px">1/λ<tspan dy="2.3" style="font-size:5.06px;letter-spacing:0" textLength="15.39" lengthAdjust="spacingAndGlyphs">cStorage</tspan></text>
<text x="62.90" y="358.20" class="cp" textLength="72.90" lengthAdjust="spacingAndGlyphs"><tspan font-weight="bold">(c)</tspan> MTTFeq of Cloud</text>
<rect x="219.3" y="196.7" width="168.09999999999997" height="128.65000000000003" fill="none" stroke="#8a8a8a" stroke-width="0.9"/>
<path d="M227.71 213.39L229.47 215.59L227.71 217.79L225.95 215.59Z" fill="none" stroke="#000000" stroke-width="0.9"/>
<path d="M236.11 213.42L237.87 215.62L236.11 217.82L234.35 215.62Z" fill="none" stroke="#000000" stroke-width="0.9"/>
<path d="M244.52 213.45L246.28 215.65L244.52 217.85L242.76 215.65Z" fill="none" stroke="#000000" stroke-width="0.9"/>
<path d="M252.92 213.47L254.68 215.67L252.92 217.87L251.16 215.67Z" fill="none" stroke="#000000" stroke-width="0.9"/>
<path d="M261.32 213.50L263.08 215.70L261.32 217.90L259.56 215.70Z" fill="none" stroke="#000000" stroke-width="0.9"/>
<path d="M269.73 213.53L271.49 215.73L269.73 217.93L267.97 215.73Z" fill="none" stroke="#000000" stroke-width="0.9"/>
<path d="M278.13 213.56L279.89 215.76L278.13 217.96L276.38 215.76Z" fill="none" stroke="#000000" stroke-width="0.9"/>
<path d="M286.54 213.58L288.30 215.78L286.54 217.98L284.78 215.78Z" fill="none" stroke="#000000" stroke-width="0.9"/>
<path d="M294.94 213.61L296.70 215.81L294.94 218.01L293.19 215.81Z" fill="none" stroke="#000000" stroke-width="0.9"/>
<path d="M303.35 213.64L305.11 215.84L303.35 218.04L301.59 215.84Z" fill="none" stroke="#000000" stroke-width="0.9"/>
<path d="M311.75 213.66L313.51 215.86L311.75 218.06L310.00 215.86Z" fill="none" stroke="#000000" stroke-width="0.9"/>
<path d="M320.16 213.69L321.92 215.89L320.16 218.09L318.40 215.89Z" fill="none" stroke="#000000" stroke-width="0.9"/>
<path d="M328.56 213.72L330.32 215.92L328.56 218.12L326.81 215.92Z" fill="none" stroke="#000000" stroke-width="0.9"/>
<path d="M336.97 213.75L338.73 215.95L336.97 218.15L335.21 215.95Z" fill="none" stroke="#000000" stroke-width="0.9"/>
<path d="M345.38 213.77L347.13 215.97L345.38 218.17L343.62 215.97Z" fill="none" stroke="#000000" stroke-width="0.9"/>
<path d="M353.78 213.80L355.54 216.00L353.78 218.20L352.02 216.00Z" fill="none" stroke="#000000" stroke-width="0.9"/>
<path d="M362.18 213.83L363.94 216.03L362.18 218.23L360.42 216.03Z" fill="none" stroke="#000000" stroke-width="0.9"/>
<path d="M370.59 213.85L372.35 216.05L370.59 218.25L368.83 216.05Z" fill="none" stroke="#000000" stroke-width="0.9"/>
<path d="M379.00 213.88L380.75 216.08L379.00 218.28L377.24 216.08Z" fill="none" stroke="#000000" stroke-width="0.9"/>
<path d="M387.40 213.91L389.16 216.11L387.40 218.31L385.64 216.11Z" fill="none" stroke="#000000" stroke-width="0.9"/>
<path d="M227.71 215.26L236.11 219.15L244.52 222.99L252.92 226.78L261.32 230.52L269.73 234.20L278.13 237.83L286.54 241.41L294.94 244.94L303.35 248.41L311.75 251.84L320.16 255.21L328.56 258.53L336.97 261.79L345.38 265.01L353.78 268.17L362.18 271.28L370.59 274.34L379.00 277.35L387.40 280.30" fill="none" stroke="#ff0000" stroke-width="0.88" stroke-dasharray="3.4 2.1" opacity="1"/>
<path d="M227.71 212.96L228.31 214.22L229.70 214.11L228.91 215.26L229.70 216.41L228.31 216.30L227.71 217.56L227.11 216.30L225.71 216.41L226.51 215.26L225.71 214.11L227.11 214.22Z" fill="#ff0000"/>
<path d="M236.11 216.85L236.71 218.11L238.10 218.00L237.31 219.15L238.10 220.30L236.71 220.19L236.11 221.45L235.51 220.19L234.12 220.30L234.91 219.15L234.12 218.00L235.51 218.11Z" fill="#ff0000"/>
<path d="M244.52 220.69L245.12 221.95L246.51 221.84L245.72 222.99L246.51 224.14L245.12 224.03L244.52 225.29L243.92 224.03L242.52 224.14L243.32 222.99L242.52 221.84L243.92 221.95Z" fill="#ff0000"/>
<path d="M252.92 224.48L253.52 225.74L254.91 225.63L254.12 226.78L254.91 227.93L253.52 227.82L252.92 229.08L252.32 227.82L250.93 227.93L251.72 226.78L250.93 225.63L252.32 225.74Z" fill="#ff0000"/>
<path d="M261.32 228.22L261.93 229.48L263.32 229.37L262.52 230.52L263.32 231.67L261.93 231.56L261.32 232.82L260.72 231.56L259.33 231.67L260.12 230.52L259.33 229.37L260.72 229.48Z" fill="#ff0000"/>
<path d="M269.73 231.90L270.33 233.16L271.72 233.05L270.93 234.20L271.72 235.35L270.33 235.24L269.73 236.50L269.13 235.24L267.74 235.35L268.53 234.20L267.74 233.05L269.13 233.16Z" fill="#ff0000"/>
<path d="M278.13 235.53L278.74 236.79L280.13 236.68L279.33 237.83L280.13 238.98L278.74 238.87L278.13 240.13L277.53 238.87L276.14 238.98L276.94 237.83L276.14 236.68L277.53 236.79Z" fill="#ff0000"/>
<path d="M286.54 239.11L287.14 240.37L288.53 240.26L287.74 241.41L288.53 242.56L287.14 242.45L286.54 243.71L285.94 242.45L284.55 242.56L285.34 241.41L284.55 240.26L285.94 240.37Z" fill="#ff0000"/>
<path d="M294.94 242.64L295.55 243.90L296.94 243.79L296.14 244.94L296.94 246.09L295.55 245.98L294.94 247.24L294.34 245.98L292.95 246.09L293.75 244.94L292.95 243.79L294.34 243.90Z" fill="#ff0000"/>
<path d="M303.35 246.11L303.95 247.37L305.34 247.26L304.55 248.41L305.34 249.56L303.95 249.45L303.35 250.71L302.75 249.45L301.36 249.56L302.15 248.41L301.36 247.26L302.75 247.37Z" fill="#ff0000"/>
<path d="M311.75 249.54L312.36 250.80L313.75 250.69L312.95 251.84L313.75 252.99L312.36 252.88L311.75 254.14L311.15 252.88L309.76 252.99L310.56 251.84L309.76 250.69L311.15 250.80Z" fill="#ff0000"/>
<path d="M320.16 252.91L320.76 254.17L322.15 254.06L321.36 255.21L322.15 256.36L320.76 256.25L320.16 257.51L319.56 256.25L318.17 256.36L318.96 255.21L318.17 254.06L319.56 254.17Z" fill="#ff0000"/>
<path d="M328.56 256.23L329.17 257.49L330.56 257.38L329.76 258.53L330.56 259.68L329.17 259.57L328.56 260.83L327.96 259.57L326.57 259.68L327.37 258.53L326.57 257.38L327.96 257.49Z" fill="#ff0000"/>
<path d="M336.97 259.49L337.57 260.75L338.96 260.64L338.17 261.79L338.96 262.94L337.57 262.83L336.97 264.09L336.37 262.83L334.98 262.94L335.77 261.79L334.98 260.64L336.37 260.75Z" fill="#ff0000"/>
<path d="M345.38 262.71L345.98 263.97L347.37 263.86L346.57 265.01L347.37 266.16L345.98 266.05L345.38 267.31L344.77 266.05L343.38 266.16L344.18 265.01L343.38 263.86L344.77 263.97Z" fill="#ff0000"/>
<path d="M353.78 265.87L354.38 267.13L355.77 267.02L354.98 268.17L355.77 269.32L354.38 269.21L353.78 270.47L353.18 269.21L351.79 269.32L352.58 268.17L351.79 267.02L353.18 267.13Z" fill="#ff0000"/>
<path d="M362.18 268.98L362.78 270.24L364.18 270.13L363.38 271.28L364.18 272.43L362.78 272.32L362.18 273.58L361.58 272.32L360.19 272.43L360.98 271.28L360.19 270.13L361.58 270.24Z" fill="#ff0000"/>
<path d="M370.59 272.04L371.19 273.30L372.58 273.19L371.79 274.34L372.58 275.49L371.19 275.38L370.59 276.64L369.99 275.38L368.60 275.49L369.39 274.34L368.60 273.19L369.99 273.30Z" fill="#ff0000"/>
<path d="M379.00 275.05L379.60 276.31L380.99 276.20L380.19 277.35L380.99 278.50L379.60 278.39L379.00 279.65L378.39 278.39L377.00 278.50L377.80 277.35L377.00 276.20L378.39 276.31Z" fill="#ff0000"/>
<path d="M387.40 278.00L388.00 279.26L389.39 279.15L388.60 280.30L389.39 281.45L388.00 281.34L387.40 282.60L386.80 281.34L385.41 281.45L386.20 280.30L385.41 279.15L386.80 279.26Z" fill="#ff0000"/>
<path d="M227.71 214.44L236.11 220.59L244.52 226.61L252.92 232.52L261.32 238.30L269.73 243.96L278.13 249.51L286.54 254.92L294.94 260.22L303.35 265.40L311.75 270.45L320.16 275.38L328.56 280.19L336.97 284.88L345.38 289.44L353.78 293.89L362.18 298.21L370.59 302.41L379.00 306.49L387.40 310.45" fill="none" stroke="#ffff00" stroke-width="0.88" stroke-dasharray="3.4 2.1" opacity="1"/>
<circle cx="227.71" cy="214.44" r="1.60" fill="#ffff00"/>
<circle cx="236.11" cy="220.59" r="1.60" fill="#ffff00"/>
<circle cx="244.52" cy="226.61" r="1.60" fill="#ffff00"/>
<circle cx="252.92" cy="232.52" r="1.60" fill="#ffff00"/>
<circle cx="261.32" cy="238.30" r="1.60" fill="#ffff00"/>
<circle cx="269.73" cy="243.96" r="1.60" fill="#ffff00"/>
<circle cx="278.13" cy="249.51" r="1.60" fill="#ffff00"/>
<circle cx="286.54" cy="254.92" r="1.60" fill="#ffff00"/>
<circle cx="294.94" cy="260.22" r="1.60" fill="#ffff00"/>
<circle cx="303.35" cy="265.40" r="1.60" fill="#ffff00"/>
<circle cx="311.75" cy="270.45" r="1.60" fill="#ffff00"/>
<circle cx="320.16" cy="275.38" r="1.60" fill="#ffff00"/>
<circle cx="328.56" cy="280.19" r="1.60" fill="#ffff00"/>
<circle cx="336.97" cy="284.88" r="1.60" fill="#ffff00"/>
<circle cx="345.38" cy="289.44" r="1.60" fill="#ffff00"/>
<circle cx="353.78" cy="293.89" r="1.60" fill="#ffff00"/>
<circle cx="362.18" cy="298.21" r="1.60" fill="#ffff00"/>
<circle cx="370.59" cy="302.41" r="1.60" fill="#ffff00"/>
<circle cx="379.00" cy="306.49" r="1.60" fill="#ffff00"/>
<circle cx="387.40" cy="310.45" r="1.60" fill="#ffff00"/>
<path d="M227.71 215.59L236.11 215.62L244.52 215.65L252.92 215.67L261.32 215.70L269.73 215.73L278.13 215.76L286.54 215.78L294.94 215.81L303.35 215.84L311.75 215.86L320.16 215.89L328.56 215.92L336.97 215.95L345.38 215.97L353.78 216.00L362.18 216.03L370.59 216.05L379.00 216.08L387.40 216.11" fill="none" stroke="#ff00ff" stroke-width="0.88" stroke-dasharray="3.4 2.1" opacity="1"/>
<path d="M227.71 213.39L229.80 216.91L225.62 216.91Z" fill="#ff00ff"/>
<path d="M236.11 213.42L238.20 216.94L234.02 216.94Z" fill="#ff00ff"/>
<path d="M244.52 213.45L246.61 216.97L242.43 216.97Z" fill="#ff00ff"/>
<path d="M252.92 213.47L255.01 216.99L250.83 216.99Z" fill="#ff00ff"/>
<path d="M261.32 213.50L263.41 217.02L259.24 217.02Z" fill="#ff00ff"/>
<path d="M269.73 213.53L271.82 217.05L267.64 217.05Z" fill="#ff00ff"/>
<path d="M278.13 213.56L280.22 217.08L276.05 217.08Z" fill="#ff00ff"/>
<path d="M286.54 213.58L288.63 217.10L284.45 217.10Z" fill="#ff00ff"/>
<path d="M294.94 213.61L297.03 217.13L292.86 217.13Z" fill="#ff00ff"/>
<path d="M303.35 213.64L305.44 217.16L301.26 217.16Z" fill="#ff00ff"/>
<path d="M311.75 213.66L313.84 217.18L309.67 217.18Z" fill="#ff00ff"/>
<path d="M320.16 213.69L322.25 217.21L318.07 217.21Z" fill="#ff00ff"/>
<path d="M328.56 213.72L330.65 217.24L326.48 217.24Z" fill="#ff00ff"/>
<path d="M336.97 213.75L339.06 217.27L334.88 217.27Z" fill="#ff00ff"/>
<path d="M345.38 213.77L347.46 217.29L343.29 217.29Z" fill="#ff00ff"/>
<path d="M353.78 213.80L355.87 217.32L351.69 217.32Z" fill="#ff00ff"/>
<path d="M362.18 213.83L364.27 217.35L360.09 217.35Z" fill="#ff00ff"/>
<path d="M370.59 213.85L372.68 217.37L368.50 217.37Z" fill="#ff00ff"/>
<path d="M379.00 213.88L381.08 217.40L376.91 217.40Z" fill="#ff00ff"/>
<path d="M387.40 213.91L389.49 217.43L385.31 217.43Z" fill="#ff00ff"/>
<path d="M227.71 215.14L236.11 215.68L244.52 216.27L252.92 216.88L261.32 217.54L269.73 218.23L278.13 218.96L286.54 219.73L294.94 220.54L303.35 221.38L311.75 222.26L320.16 223.17L328.56 224.13L336.97 225.12L345.38 226.14L353.78 227.21L362.18 228.31L370.59 229.45L379.00 230.62L387.40 231.84" fill="none" stroke="#00ff00" stroke-width="0.88" stroke-dasharray="3.4 2.1" opacity="1"/>
<path d="M229.91 215.14L226.39 213.05L226.39 217.23Z" fill="#00ff00"/>
<path d="M238.31 215.68L234.79 213.59L234.79 217.77Z" fill="#00ff00"/>
<path d="M246.72 216.27L243.20 214.18L243.20 218.36Z" fill="#00ff00"/>
<path d="M255.12 216.88L251.60 214.79L251.60 218.97Z" fill="#00ff00"/>
<path d="M263.52 217.54L260.00 215.45L260.00 219.63Z" fill="#00ff00"/>
<path d="M271.93 218.23L268.41 216.14L268.41 220.32Z" fill="#00ff00"/>
<path d="M280.33 218.96L276.81 216.87L276.81 221.05Z" fill="#00ff00"/>
<path d="M288.74 219.73L285.22 217.64L285.22 221.82Z" fill="#00ff00"/>
<path d="M297.14 220.54L293.62 218.45L293.62 222.63Z" fill="#00ff00"/>
<path d="M305.55 221.38L302.03 219.29L302.03 223.47Z" fill="#00ff00"/>
<path d="M313.95 222.26L310.44 220.17L310.44 224.35Z" fill="#00ff00"/>
<path d="M322.36 223.17L318.84 221.08L318.84 225.26Z" fill="#00ff00"/>
<path d="M330.76 224.13L327.25 222.04L327.25 226.22Z" fill="#00ff00"/>
<path d="M339.17 225.12L335.65 223.03L335.65 227.21Z" fill="#00ff00"/>
<path d="M347.57 226.14L344.06 224.05L344.06 228.23Z" fill="#00ff00"/>
<path d="M355.98 227.21L352.46 225.12L352.46 229.30Z" fill="#00ff00"/>
<path d="M364.38 228.31L360.86 226.22L360.86 230.40Z" fill="#00ff00"/>
<path d="M372.79 229.45L369.27 227.36L369.27 231.54Z" fill="#00ff00"/>
<path d="M381.19 230.62L377.68 228.53L377.68 232.71Z" fill="#00ff00"/>
<path d="M389.60 231.84L386.08 229.75L386.08 233.93Z" fill="#00ff00"/>
<path d="M227.71 215.41L236.11 215.44L244.52 215.46L252.92 215.49L261.32 215.52L269.73 215.54L278.13 215.57L286.54 215.60L294.94 215.63L303.35 215.65L311.75 215.68L320.16 215.71L328.56 215.73L336.97 215.76L345.38 215.79L353.78 215.82L362.18 215.84L370.59 215.87L379.00 215.90L387.40 215.92" fill="none" stroke="#0000ff" stroke-width="0.88" stroke-dasharray="3.4 2.1" opacity="1"/>
<circle cx="227.71" cy="215.41" r="1.60" fill="#0000ff"/>
<circle cx="236.11" cy="215.44" r="1.60" fill="#0000ff"/>
<circle cx="244.52" cy="215.46" r="1.60" fill="#0000ff"/>
<circle cx="252.92" cy="215.49" r="1.60" fill="#0000ff"/>
<circle cx="261.32" cy="215.52" r="1.60" fill="#0000ff"/>
<circle cx="269.73" cy="215.54" r="1.60" fill="#0000ff"/>
<circle cx="278.13" cy="215.57" r="1.60" fill="#0000ff"/>
<circle cx="286.54" cy="215.60" r="1.60" fill="#0000ff"/>
<circle cx="294.94" cy="215.63" r="1.60" fill="#0000ff"/>
<circle cx="303.35" cy="215.65" r="1.60" fill="#0000ff"/>
<circle cx="311.75" cy="215.68" r="1.60" fill="#0000ff"/>
<circle cx="320.16" cy="215.71" r="1.60" fill="#0000ff"/>
<circle cx="328.56" cy="215.73" r="1.60" fill="#0000ff"/>
<circle cx="336.97" cy="215.76" r="1.60" fill="#0000ff"/>
<circle cx="345.38" cy="215.79" r="1.60" fill="#0000ff"/>
<circle cx="353.78" cy="215.82" r="1.60" fill="#0000ff"/>
<circle cx="362.18" cy="215.84" r="1.60" fill="#0000ff"/>
<circle cx="370.59" cy="215.87" r="1.60" fill="#0000ff"/>
<circle cx="379.00" cy="215.90" r="1.60" fill="#0000ff"/>
<circle cx="387.40" cy="215.92" r="1.60" fill="#0000ff"/>
<path d="M219.30 325.35v-1.6M219.30 196.7v1.6" stroke="#8a8a8a" stroke-width="0.7"/>
<text x="219.30" y="334.55" text-anchor="middle" class="tk" style="font-size:7.0px">0</text>
<path d="M261.32 325.35v-1.6M261.32 196.7v1.6" stroke="#8a8a8a" stroke-width="0.7"/>
<text x="261.32" y="334.55" text-anchor="middle" class="tk" style="font-size:7.0px">50</text>
<path d="M303.35 325.35v-1.6M303.35 196.7v1.6" stroke="#8a8a8a" stroke-width="0.7"/>
<text x="303.35" y="334.55" text-anchor="middle" class="tk" style="font-size:7.0px">100</text>
<path d="M345.38 325.35v-1.6M345.38 196.7v1.6" stroke="#8a8a8a" stroke-width="0.7"/>
<text x="345.38" y="334.55" text-anchor="middle" class="tk" style="font-size:7.0px">150</text>
<path d="M387.40 325.35v-1.6M387.40 196.7v1.6" stroke="#8a8a8a" stroke-width="0.7"/>
<text x="387.40" y="334.55" text-anchor="middle" class="tk" style="font-size:7.0px">200</text>
<path d="M219.3 325.35h1.6M387.4 325.35h-1.6" stroke="#8a8a8a" stroke-width="0.7"/>
<text x="217.30" y="328.15" text-anchor="end" class="tk" style="font-size:7.0px">0.65</text>
<path d="M219.3 306.97h1.6M387.4 306.97h-1.6" stroke="#8a8a8a" stroke-width="0.7"/>
<text x="217.30" y="309.77" text-anchor="end" class="tk" style="font-size:7.0px">0.7</text>
<path d="M219.3 288.59h1.6M387.4 288.59h-1.6" stroke="#8a8a8a" stroke-width="0.7"/>
<text x="217.30" y="291.39" text-anchor="end" class="tk" style="font-size:7.0px">0.75</text>
<path d="M219.3 270.21h1.6M387.4 270.21h-1.6" stroke="#8a8a8a" stroke-width="0.7"/>
<text x="217.30" y="273.01" text-anchor="end" class="tk" style="font-size:7.0px">0.8</text>
<path d="M219.3 251.84h1.6M387.4 251.84h-1.6" stroke="#8a8a8a" stroke-width="0.7"/>
<text x="217.30" y="254.64" text-anchor="end" class="tk" style="font-size:7.0px">0.85</text>
<path d="M219.3 233.46h1.6M387.4 233.46h-1.6" stroke="#8a8a8a" stroke-width="0.7"/>
<text x="217.30" y="236.26" text-anchor="end" class="tk" style="font-size:7.0px">0.9</text>
<path d="M219.3 215.08h1.6M387.4 215.08h-1.6" stroke="#8a8a8a" stroke-width="0.7"/>
<text x="217.30" y="217.88" text-anchor="end" class="tk" style="font-size:7.0px">0.95</text>
<path d="M219.3 196.70h1.6M387.4 196.70h-1.6" stroke="#8a8a8a" stroke-width="0.7"/>
<text x="217.30" y="199.50" text-anchor="end" class="tk" style="font-size:7.0px">1</text>
<text x="303.35" y="342.95" text-anchor="middle" class="al" style="font-size:7.3px">Time (hours)</text>
<text transform="translate(203.00 261.62) rotate(-90)" x="0" y="0" text-anchor="middle" class="al" style="font-size:7.15px">Steady state availability</text>
<rect x="229.3" y="257.3" width="44.099999999999966" height="59.19999999999999" fill="#fff" stroke="#8a8a8a" stroke-width="0.8"/>
<path d="M230.30 262.90h3.4M241.40 262.90H244.80" stroke="#000000" stroke-width="0.9" opacity="0.85"/>
<path d="M237.55 260.70L239.31 262.90L237.55 265.10L235.79 262.90Z" fill="none" stroke="#000000" stroke-width="0.9"/>
<text x="246.40" y="265.00" class="lg" style="font-size:7.2px">1/μ<tspan dy="2.4" style="font-size:5.52px;letter-spacing:0" textLength="10.13" lengthAdjust="spacingAndGlyphs">cHW</tspan></text>
<path d="M230.30 272.50h3.4M241.40 272.50H244.80" stroke="#ff0000" stroke-width="0.9" opacity="0.85"/>
<path d="M237.55 270.20L238.15 271.46L239.54 271.35L238.75 272.50L239.54 273.65L238.15 273.54L237.55 274.80L236.95 273.54L235.56 273.65L236.35 272.50L235.56 271.35L236.95 271.46Z" fill="#ff0000"/>
<text x="246.40" y="274.60" class="lg" style="font-size:7.2px">1/μ<tspan dy="2.4" style="font-size:5.52px;letter-spacing:0" textLength="14.13" lengthAdjust="spacingAndGlyphs">cVMM</tspan></text>
<path d="M230.30 282.30h3.4M241.40 282.30H244.80" stroke="#ffff00" stroke-width="0.9" opacity="0.85"/>
<circle cx="237.55" cy="282.30" r="1.60" fill="#ffff00"/>
<text x="246.40" y="284.40" class="lg" style="font-size:7.2px">1/μ<tspan dy="2.4" style="font-size:5.52px;letter-spacing:0" textLength="9.86" lengthAdjust="spacingAndGlyphs">cVM</tspan></text>
<path d="M230.30 291.80h3.4M241.40 291.80H244.80" stroke="#ff00ff" stroke-width="0.9" opacity="0.85"/>
<path d="M237.55 289.60L239.64 293.12L235.46 293.12Z" fill="#ff00ff"/>
<text x="246.40" y="293.90" class="lg" style="font-size:7.2px">1/μ<tspan dy="2.4" style="font-size:5.52px;letter-spacing:0" textLength="12.53" lengthAdjust="spacingAndGlyphs">cgHW</tspan></text>
<path d="M230.30 301.30h3.4M241.40 301.30H244.80" stroke="#00ff00" stroke-width="0.9" opacity="0.85"/>
<path d="M239.75 301.30L236.23 299.21L236.23 303.39Z" fill="#00ff00"/>
<text x="246.40" y="303.40" class="lg" style="font-size:7.2px">1/μ<tspan dy="2.4" style="font-size:5.52px;letter-spacing:0" textLength="11.73" lengthAdjust="spacingAndGlyphs">cgSW</tspan></text>
<path d="M230.30 310.80h3.4M241.40 310.80H244.80" stroke="#0000ff" stroke-width="0.9" opacity="0.85"/>
<circle cx="237.55" cy="310.80" r="1.60" fill="#0000ff"/>
<text x="246.40" y="312.90" class="lg" style="font-size:7.2px">1/μ<tspan dy="2.4" style="font-size:5.52px;letter-spacing:0" textLength="16.79" lengthAdjust="spacingAndGlyphs">cStorage</tspan></text>
<text x="256.50" y="358.20" class="cp" textLength="75.40" lengthAdjust="spacingAndGlyphs"><tspan font-weight="bold">(d)</tspan> MTTReq of Cloud</text>
<rect x="21.3" y="380.3" width="169.1" height="133.24999999999994" fill="none" stroke="#8a8a8a" stroke-width="0.9"/>
<path d="M22.99 509.18L24.65 511.48L22.99 513.78L21.34 511.48Z" fill="none" stroke="#ff0000" stroke-width="0.95"/>
<path d="M39.90 440.78L41.56 443.08L39.90 445.38L38.24 443.08Z" fill="none" stroke="#ff0000" stroke-width="0.95"/>
<path d="M56.81 421.08L58.47 423.38L56.81 425.68L55.15 423.38Z" fill="none" stroke="#ff0000" stroke-width="0.95"/>
<path d="M73.72 412.05L75.38 414.35L73.72 416.65L72.06 414.35Z" fill="none" stroke="#ff0000" stroke-width="0.95"/>
<path d="M90.63 406.57L92.29 408.87L90.63 411.17L88.97 408.87Z" fill="none" stroke="#ff0000" stroke-width="0.95"/>
<path d="M107.54 402.43L109.20 404.73L107.54 407.03L105.88 404.73Z" fill="none" stroke="#ff0000" stroke-width="0.95"/>
<path d="M124.45 400.21L126.11 402.51L124.45 404.81L122.79 402.51Z" fill="none" stroke="#ff0000" stroke-width="0.95"/>
<path d="M141.36 398.43L143.02 400.73L141.36 403.03L139.70 400.73Z" fill="none" stroke="#ff0000" stroke-width="0.95"/>
<path d="M158.27 396.51L159.93 398.81L158.27 401.11L156.62 398.81Z" fill="none" stroke="#ff0000" stroke-width="0.95"/>
<path d="M175.18 395.62L176.84 397.92L175.18 400.22L173.53 397.92Z" fill="none" stroke="#ff0000" stroke-width="0.95"/>
<path d="M22.99 438.93L39.90 393.77L56.81 390.37L73.72 389.04L90.63 388.30L107.54 388.15L124.45 387.85L141.36 387.55L158.27 387.41L175.18 387.26" fill="none" stroke="#00ff00" stroke-width="0.88" stroke-dasharray="3.4 2.1" opacity="1"/>
<path d="M22.99 436.63L23.58 438.12L25.18 438.22L23.94 439.24L24.34 440.79L22.99 439.93L21.64 440.79L22.04 439.24L20.80 438.22L22.40 438.12Z" fill="#00ff00"/>
<path d="M39.90 391.47L40.49 392.96L42.09 393.06L40.85 394.08L41.25 395.63L39.90 394.77L38.55 395.63L38.95 394.08L37.71 393.06L39.31 392.96Z" fill="#00ff00"/>
<path d="M56.81 388.07L57.40 389.56L59.00 389.66L57.76 390.68L58.16 392.23L56.81 391.37L55.46 392.23L55.86 390.68L54.62 389.66L56.22 389.56Z" fill="#00ff00"/>
<path d="M73.72 386.74L74.31 388.23L75.91 388.32L74.67 389.34L75.07 390.90L73.72 390.04L72.37 390.90L72.77 389.34L71.53 388.32L73.13 388.23Z" fill="#00ff00"/>
<path d="M90.63 386.00L91.22 387.49L92.82 387.58L91.58 388.60L91.98 390.16L90.63 389.30L89.28 390.16L89.68 388.60L88.44 387.58L90.04 387.49Z" fill="#00ff00"/>
<path d="M107.54 385.85L108.13 387.34L109.73 387.44L108.49 388.46L108.89 390.01L107.54 389.15L106.19 390.01L106.59 388.46L105.35 387.44L106.95 387.34Z" fill="#00ff00"/>
<path d="M124.45 385.55L125.04 387.04L126.64 387.14L125.40 388.16L125.80 389.71L124.45 388.85L123.10 389.71L123.50 388.16L122.26 387.14L123.86 387.04Z" fill="#00ff00"/>
<path d="M141.36 385.25L141.95 386.75L143.55 386.84L142.31 387.86L142.71 389.42L141.36 388.55L140.01 389.42L140.41 387.86L139.17 386.84L140.77 386.75Z" fill="#00ff00"/>
<path d="M158.27 385.11L158.86 386.60L160.46 386.70L159.22 387.72L159.62 389.27L158.27 388.41L156.92 389.27L157.32 387.72L156.08 386.70L157.68 386.60Z" fill="#00ff00"/>
<path d="M175.18 384.96L175.77 386.45L177.37 386.55L176.13 387.57L176.53 389.12L175.18 388.26L173.83 389.12L174.23 387.57L172.99 386.55L174.59 386.45Z" fill="#00ff00"/>
<path d="M22.99 511.48L39.90 443.08L56.81 423.38L73.72 414.35L90.63 408.87L107.54 404.73L124.45 402.51L141.36 400.73L158.27 398.81L175.18 397.92" fill="none" stroke="#0000ff" stroke-width="0.88" stroke-dasharray="3.4 2.1" opacity="1"/>
<circle cx="22.99" cy="511.48" r="1.60" fill="#0000ff"/>
<circle cx="39.90" cy="443.08" r="1.60" fill="#0000ff"/>
<circle cx="56.81" cy="423.38" r="1.60" fill="#0000ff"/>
<circle cx="73.72" cy="414.35" r="1.60" fill="#0000ff"/>
<circle cx="90.63" cy="408.87" r="1.60" fill="#0000ff"/>
<circle cx="107.54" cy="404.73" r="1.60" fill="#0000ff"/>
<circle cx="124.45" cy="402.51" r="1.60" fill="#0000ff"/>
<circle cx="141.36" cy="400.73" r="1.60" fill="#0000ff"/>
<circle cx="158.27" cy="398.81" r="1.60" fill="#0000ff"/>
<circle cx="175.18" cy="397.92" r="1.60" fill="#0000ff"/>
<path d="M22.99 454.92L39.90 398.51L56.81 392.88L73.72 391.11L90.63 389.92L107.54 388.74L124.45 388.59L141.36 388.44L158.27 388.30L175.18 388.15" fill="none" stroke="#ffff00" stroke-width="0.88" stroke-dasharray="3.4 2.1" opacity="1"/>
<path d="M25.19 454.92L21.67 452.83L21.67 457.01Z" fill="#ffff00"/>
<path d="M42.10 398.51L38.58 396.42L38.58 400.60Z" fill="#ffff00"/>
<path d="M59.01 392.88L55.49 390.79L55.49 394.97Z" fill="#ffff00"/>
<path d="M75.92 391.11L72.40 389.02L72.40 393.20Z" fill="#ffff00"/>
<path d="M92.83 389.92L89.31 387.83L89.31 392.01Z" fill="#ffff00"/>
<path d="M109.74 388.74L106.22 386.65L106.22 390.83Z" fill="#ffff00"/>
<path d="M126.65 388.59L123.13 386.50L123.13 390.68Z" fill="#ffff00"/>
<path d="M143.56 388.44L140.04 386.35L140.04 390.53Z" fill="#ffff00"/>
<path d="M160.47 388.30L156.95 386.21L156.95 390.38Z" fill="#ffff00"/>
<path d="M177.38 388.15L173.86 386.06L173.86 390.24Z" fill="#ffff00"/>
<path d="M21.30 513.55v-1.6M21.30 380.3v1.6" stroke="#8a8a8a" stroke-width="0.7"/>
<text x="21.30" y="522.15" text-anchor="middle" class="tk" style="font-size:7.0px">0</text>
<path d="M55.12 513.55v-1.6M55.12 380.3v1.6" stroke="#8a8a8a" stroke-width="0.7"/>
<text x="55.12" y="522.15" text-anchor="middle" class="tk" style="font-size:7.0px">200</text>
<path d="M88.94 513.55v-1.6M88.94 380.3v1.6" stroke="#8a8a8a" stroke-width="0.7"/>
<text x="88.94" y="522.15" text-anchor="middle" class="tk" style="font-size:7.0px">400</text>
<path d="M122.76 513.55v-1.6M122.76 380.3v1.6" stroke="#8a8a8a" stroke-width="0.7"/>
<text x="122.76" y="522.15" text-anchor="middle" class="tk" style="font-size:7.0px">600</text>
<path d="M156.58 513.55v-1.6M156.58 380.3v1.6" stroke="#8a8a8a" stroke-width="0.7"/>
<text x="156.58" y="522.15" text-anchor="middle" class="tk" style="font-size:7.0px">800</text>
<path d="M190.40 513.55v-1.6M190.40 380.3v1.6" stroke="#8a8a8a" stroke-width="0.7"/>
<text x="190.40" y="522.15" text-anchor="middle" class="tk" style="font-size:7.0px">1000</text>
<path d="M21.3 513.55h1.6M190.4 513.55h-1.6" stroke="#8a8a8a" stroke-width="0.7"/>
<text x="19.00" y="515.85" text-anchor="end" class="tk" style="font-size:7.0px">0.1</text>
<path d="M21.3 498.74h1.6M190.4 498.74h-1.6" stroke="#8a8a8a" stroke-width="0.7"/>
<text x="19.00" y="501.04" text-anchor="end" class="tk" style="font-size:7.0px">0.2</text>
<path d="M21.3 483.94h1.6M190.4 483.94h-1.6" stroke="#8a8a8a" stroke-width="0.7"/>
<text x="19.00" y="486.24" text-anchor="end" class="tk" style="font-size:7.0px">0.3</text>
<path d="M21.3 469.13h1.6M190.4 469.13h-1.6" stroke="#8a8a8a" stroke-width="0.7"/>
<text x="19.00" y="471.43" text-anchor="end" class="tk" style="font-size:7.0px">0.4</text>
<path d="M21.3 454.33h1.6M190.4 454.33h-1.6" stroke="#8a8a8a" stroke-width="0.7"/>
<text x="19.00" y="456.63" text-anchor="end" class="tk" style="font-size:7.0px">0.5</text>
<path d="M21.3 439.52h1.6M190.4 439.52h-1.6" stroke="#8a8a8a" stroke-width="0.7"/>
<text x="19.00" y="441.82" text-anchor="end" class="tk" style="font-size:7.0px">0.6</text>
<path d="M21.3 424.72h1.6M190.4 424.72h-1.6" stroke="#8a8a8a" stroke-width="0.7"/>
<text x="19.00" y="427.02" text-anchor="end" class="tk" style="font-size:7.0px">0.7</text>
<path d="M21.3 409.91h1.6M190.4 409.91h-1.6" stroke="#8a8a8a" stroke-width="0.7"/>
<text x="19.00" y="412.21" text-anchor="end" class="tk" style="font-size:7.0px">0.8</text>
<path d="M21.3 395.11h1.6M190.4 395.11h-1.6" stroke="#8a8a8a" stroke-width="0.7"/>
<text x="19.00" y="397.41" text-anchor="end" class="tk" style="font-size:7.0px">0.9</text>
<path d="M21.3 380.30h1.6M190.4 380.30h-1.6" stroke="#8a8a8a" stroke-width="0.7"/>
<text x="19.00" y="382.60" text-anchor="end" class="tk" style="font-size:7.0px">1</text>
<text x="105.85" y="531.35" text-anchor="middle" class="al" style="font-size:7.3px">Time (hours)</text>
<text transform="translate(7.50 446.92) rotate(-90)" x="0" y="0" text-anchor="middle" class="al" style="font-size:7.2px">Steady state availability</text>
<rect x="147.2" y="404.4" width="38.20000000000002" height="40.0" fill="#fff" stroke="#8a8a8a" stroke-width="0.8"/>
<path d="M148.60 409.90h3.4M159.40 409.90H162.80" stroke="#ff0000" stroke-width="0.9" opacity="0.85"/>
<path d="M155.70 407.60L157.36 409.90L155.70 412.20L154.04 409.90Z" fill="none" stroke="#ff0000" stroke-width="0.95"/>
<text x="164.70" y="411.90" class="lg" style="font-size:6.9px">1/λ<tspan dy="2.4" style="font-size:5.29px;letter-spacing:0" textLength="11.50" lengthAdjust="spacingAndGlyphs">fgHW</tspan></text>
<path d="M148.60 419.60h3.4M159.40 419.60H162.80" stroke="#00ff00" stroke-width="0.9" opacity="0.85"/>
<path d="M155.70 417.30L156.29 418.79L157.89 418.89L156.65 419.91L157.05 421.46L155.70 420.60L154.35 421.46L154.75 419.91L153.51 418.89L155.11 418.79Z" fill="#00ff00"/>
<text x="164.70" y="421.60" class="lg" style="font-size:6.9px">1/λ<tspan dy="2.4" style="font-size:5.29px;letter-spacing:0" textLength="10.73" lengthAdjust="spacingAndGlyphs">fgSW</tspan></text>
<path d="M148.60 429.20h3.4M159.40 429.20H162.80" stroke="#0000ff" stroke-width="0.9" opacity="0.85"/>
<circle cx="155.70" cy="429.20" r="1.60" fill="#0000ff"/>
<text x="164.70" y="431.20" class="lg" style="font-size:6.9px">1/λ<tspan dy="2.4" style="font-size:5.29px;letter-spacing:0" textLength="9.20" lengthAdjust="spacingAndGlyphs">fHW</tspan></text>
<path d="M148.60 438.80h3.4M159.40 438.80H162.80" stroke="#ffff00" stroke-width="0.9" opacity="0.85"/>
<path d="M157.90 438.80L154.38 436.71L154.38 440.89Z" fill="#ffff00"/>
<text x="164.70" y="440.80" class="lg" style="font-size:6.9px">1/λ<tspan dy="2.4" style="font-size:5.29px;letter-spacing:0" textLength="7.41" lengthAdjust="spacingAndGlyphs">fOS</tspan></text>
<text x="66.90" y="545.40" class="cp" textLength="64.80" lengthAdjust="spacingAndGlyphs"><tspan font-weight="bold">(e)</tspan> MTTFeq of Fog</text>
<rect x="221.4" y="384.5" width="165.99999999999997" height="127.70000000000005" fill="none" stroke="#8a8a8a" stroke-width="0.9"/>
<path d="M229.70 383.22L231.36 385.52L229.70 387.82L228.04 385.52Z" fill="none" stroke="#ff0000" stroke-width="0.95"/>
<path d="M238.00 383.25L239.66 385.55L238.00 387.85L236.34 385.55Z" fill="none" stroke="#ff0000" stroke-width="0.95"/>
<path d="M246.30 383.28L247.96 385.58L246.30 387.88L244.64 385.58Z" fill="none" stroke="#ff0000" stroke-width="0.95"/>
<path d="M254.60 383.30L256.26 385.60L254.60 387.90L252.94 385.60Z" fill="none" stroke="#ff0000" stroke-width="0.95"/>
<path d="M262.90 383.33L264.56 385.63L262.90 387.93L261.24 385.63Z" fill="none" stroke="#ff0000" stroke-width="0.95"/>
<path d="M271.20 383.36L272.86 385.66L271.20 387.96L269.54 385.66Z" fill="none" stroke="#ff0000" stroke-width="0.95"/>
<path d="M279.50 383.38L281.16 385.68L279.50 387.98L277.84 385.68Z" fill="none" stroke="#ff0000" stroke-width="0.95"/>
<path d="M287.80 383.41L289.46 385.71L287.80 388.01L286.14 385.71Z" fill="none" stroke="#ff0000" stroke-width="0.95"/>
<path d="M296.10 383.44L297.76 385.74L296.10 388.04L294.44 385.74Z" fill="none" stroke="#ff0000" stroke-width="0.95"/>
<path d="M304.40 383.46L306.06 385.76L304.40 388.06L302.74 385.76Z" fill="none" stroke="#ff0000" stroke-width="0.95"/>
<path d="M312.70 383.49L314.36 385.79L312.70 388.09L311.04 385.79Z" fill="none" stroke="#ff0000" stroke-width="0.95"/>
<path d="M321.00 383.52L322.66 385.82L321.00 388.12L319.34 385.82Z" fill="none" stroke="#ff0000" stroke-width="0.95"/>
<path d="M329.30 383.54L330.96 385.84L329.30 388.14L327.64 385.84Z" fill="none" stroke="#ff0000" stroke-width="0.95"/>
<path d="M337.60 383.57L339.26 385.87L337.60 388.17L335.94 385.87Z" fill="none" stroke="#ff0000" stroke-width="0.95"/>
<path d="M345.90 383.60L347.56 385.90L345.90 388.20L344.24 385.90Z" fill="none" stroke="#ff0000" stroke-width="0.95"/>
<path d="M354.20 383.62L355.86 385.92L354.20 388.22L352.54 385.92Z" fill="none" stroke="#ff0000" stroke-width="0.95"/>
<path d="M362.50 383.65L364.16 385.95L362.50 388.25L360.84 385.95Z" fill="none" stroke="#ff0000" stroke-width="0.95"/>
<path d="M370.80 383.68L372.46 385.98L370.80 388.28L369.14 385.98Z" fill="none" stroke="#ff0000" stroke-width="0.95"/>
<path d="M379.10 383.71L380.76 386.01L379.10 388.31L377.44 386.01Z" fill="none" stroke="#ff0000" stroke-width="0.95"/>
<path d="M387.40 383.73L389.06 386.03L387.40 388.33L385.74 386.03Z" fill="none" stroke="#ff0000" stroke-width="0.95"/>
<path d="M229.70 389.65L238.00 397.77L246.30 405.70L254.60 413.43L262.90 420.96L271.20 428.29L279.50 435.43L287.80 442.37L296.10 449.12L304.40 455.66L312.70 462.01L321.00 468.17L329.30 474.12L337.60 479.88L345.90 485.44L354.20 490.81L362.50 495.97L370.80 500.94L379.10 505.72L387.40 510.29" fill="none" stroke="#00ff00" stroke-width="0.88" stroke-dasharray="3.4 2.1" opacity="1"/>
<path d="M229.70 387.35L230.29 388.84L231.89 388.94L230.65 389.95L231.05 391.51L229.70 390.65L228.35 391.51L228.75 389.95L227.51 388.94L229.11 388.84Z" fill="#00ff00"/>
<path d="M238.00 395.47L238.59 396.96L240.19 397.06L238.95 398.08L239.35 399.63L238.00 398.77L236.65 399.63L237.05 398.08L235.81 397.06L237.41 396.96Z" fill="#00ff00"/>
<path d="M246.30 403.40L246.89 404.89L248.49 404.99L247.25 406.01L247.65 407.56L246.30 406.70L244.95 407.56L245.35 406.01L244.11 404.99L245.71 404.89Z" fill="#00ff00"/>
<path d="M254.60 411.13L255.19 412.62L256.79 412.71L255.55 413.73L255.95 415.29L254.60 414.43L253.25 415.29L253.65 413.73L252.41 412.71L254.01 412.62Z" fill="#00ff00"/>
<path d="M262.90 418.66L263.49 420.15L265.09 420.25L263.85 421.27L264.25 422.82L262.90 421.96L261.55 422.82L261.95 421.27L260.71 420.25L262.31 420.15Z" fill="#00ff00"/>
<path d="M271.20 425.99L271.79 427.48L273.39 427.58L272.15 428.60L272.55 430.15L271.20 429.29L269.85 430.15L270.25 428.60L269.01 427.58L270.61 427.48Z" fill="#00ff00"/>
<path d="M279.50 433.13L280.09 434.62L281.69 434.72L280.45 435.74L280.85 437.29L279.50 436.43L278.15 437.29L278.55 435.74L277.31 434.72L278.91 434.62Z" fill="#00ff00"/>
<path d="M287.80 440.07L288.39 441.56L289.99 441.66L288.75 442.68L289.15 444.23L287.80 443.37L286.45 444.23L286.85 442.68L285.61 441.66L287.21 441.56Z" fill="#00ff00"/>
<path d="M296.10 446.82L296.69 448.31L298.29 448.41L297.05 449.43L297.45 450.98L296.10 450.12L294.75 450.98L295.15 449.43L293.91 448.41L295.51 448.31Z" fill="#00ff00"/>
<path d="M304.40 453.36L304.99 454.86L306.59 454.95L305.35 455.97L305.75 457.52L304.40 456.66L303.05 457.52L303.45 455.97L302.21 454.95L303.81 454.86Z" fill="#00ff00"/>
<path d="M312.70 459.71L313.29 461.20L314.89 461.30L313.65 462.32L314.05 463.87L312.70 463.01L311.35 463.87L311.75 462.32L310.51 461.30L312.11 461.20Z" fill="#00ff00"/>
<path d="M321.00 465.87L321.59 467.36L323.19 467.46L321.95 468.48L322.35 470.03L321.00 469.17L319.65 470.03L320.05 468.48L318.81 467.46L320.41 467.36Z" fill="#00ff00"/>
<path d="M329.30 471.82L329.89 473.31L331.49 473.41L330.25 474.43L330.65 475.98L329.30 475.12L327.95 475.98L328.35 474.43L327.11 473.41L328.71 473.31Z" fill="#00ff00"/>
<path d="M337.60 477.58L338.19 479.07L339.79 479.17L338.55 480.19L338.95 481.74L337.60 480.88L336.25 481.74L336.65 480.19L335.41 479.17L337.01 479.07Z" fill="#00ff00"/>
<path d="M345.90 483.14L346.49 484.63L348.09 484.73L346.85 485.75L347.25 487.30L345.90 486.44L344.55 487.30L344.95 485.75L343.71 484.73L345.31 484.63Z" fill="#00ff00"/>
<path d="M354.20 488.51L354.79 490.00L356.39 490.10L355.15 491.12L355.55 492.67L354.20 491.81L352.85 492.67L353.25 491.12L352.01 490.10L353.61 490.00Z" fill="#00ff00"/>
<path d="M362.50 493.67L363.09 495.17L364.69 495.26L363.45 496.28L363.85 497.84L362.50 496.97L361.15 497.84L361.55 496.28L360.31 495.26L361.91 495.17Z" fill="#00ff00"/>
<path d="M370.80 498.64L371.39 500.14L372.99 500.23L371.75 501.25L372.15 502.81L370.80 501.94L369.45 502.81L369.85 501.25L368.61 500.23L370.21 500.14Z" fill="#00ff00"/>
<path d="M379.10 503.42L379.69 504.91L381.29 505.01L380.05 506.03L380.45 507.58L379.10 506.72L377.75 507.58L378.15 506.03L376.91 505.01L378.51 504.91Z" fill="#00ff00"/>
<path d="M387.40 507.99L387.99 509.49L389.59 509.58L388.35 510.60L388.75 512.15L387.40 511.29L386.05 512.15L386.45 510.60L385.21 509.58L386.81 509.49Z" fill="#00ff00"/>
<path d="M229.70 385.52L238.00 385.55L246.30 385.58L254.60 385.60L262.90 385.63L271.20 385.66L279.50 385.68L287.80 385.71L296.10 385.74L304.40 385.76L312.70 385.79L321.00 385.82L329.30 385.84L337.60 385.87L345.90 385.90L354.20 385.92L362.50 385.95L370.80 385.98L379.10 386.01L387.40 386.03" fill="none" stroke="#0000ff" stroke-width="0.88" stroke-dasharray="3.4 2.1" opacity="1"/>
<circle cx="229.70" cy="385.52" r="1.60" fill="#0000ff"/>
<circle cx="238.00" cy="385.55" r="1.60" fill="#0000ff"/>
<circle cx="246.30" cy="385.58" r="1.60" fill="#0000ff"/>
<circle cx="254.60" cy="385.60" r="1.60" fill="#0000ff"/>
<circle cx="262.90" cy="385.63" r="1.60" fill="#0000ff"/>
<circle cx="271.20" cy="385.66" r="1.60" fill="#0000ff"/>
<circle cx="279.50" cy="385.68" r="1.60" fill="#0000ff"/>
<circle cx="287.80" cy="385.71" r="1.60" fill="#0000ff"/>
<circle cx="296.10" cy="385.74" r="1.60" fill="#0000ff"/>
<circle cx="304.40" cy="385.76" r="1.60" fill="#0000ff"/>
<circle cx="312.70" cy="385.79" r="1.60" fill="#0000ff"/>
<circle cx="321.00" cy="385.82" r="1.60" fill="#0000ff"/>
<circle cx="329.30" cy="385.84" r="1.60" fill="#0000ff"/>
<circle cx="337.60" cy="385.87" r="1.60" fill="#0000ff"/>
<circle cx="345.90" cy="385.90" r="1.60" fill="#0000ff"/>
<circle cx="354.20" cy="385.92" r="1.60" fill="#0000ff"/>
<circle cx="362.50" cy="385.95" r="1.60" fill="#0000ff"/>
<circle cx="370.80" cy="385.98" r="1.60" fill="#0000ff"/>
<circle cx="379.10" cy="386.01" r="1.60" fill="#0000ff"/>
<circle cx="387.40" cy="386.03" r="1.60" fill="#0000ff"/>
<path d="M229.70 386.17L238.00 390.35L246.30 394.47L254.60 398.53L262.90 402.54L271.20 406.48L279.50 410.36L287.80 414.19L296.10 417.95L304.40 421.65L312.70 425.29L321.00 428.88L329.30 432.40L337.60 435.86L345.90 439.27L354.20 442.61L362.50 445.89L370.80 449.12L379.10 452.28L387.40 455.38" fill="none" stroke="#ffff00" stroke-width="0.88" stroke-dasharray="3.4 2.1" opacity="1"/>
<path d="M231.90 386.17L228.38 384.08L228.38 388.26Z" fill="#ffff00"/>
<path d="M240.20 390.35L236.68 388.26L236.68 392.44Z" fill="#ffff00"/>
<path d="M248.50 394.47L244.98 392.38L244.98 396.56Z" fill="#ffff00"/>
<path d="M256.80 398.53L253.28 396.44L253.28 400.62Z" fill="#ffff00"/>
<path d="M265.10 402.54L261.58 400.45L261.58 404.63Z" fill="#ffff00"/>
<path d="M273.40 406.48L269.88 404.39L269.88 408.57Z" fill="#ffff00"/>
<path d="M281.70 410.36L278.18 408.27L278.18 412.45Z" fill="#ffff00"/>
<path d="M290.00 414.19L286.48 412.10L286.48 416.28Z" fill="#ffff00"/>
<path d="M298.30 417.95L294.78 415.86L294.78 420.04Z" fill="#ffff00"/>
<path d="M306.60 421.65L303.08 419.56L303.08 423.74Z" fill="#ffff00"/>
<path d="M314.90 425.29L311.38 423.20L311.38 427.38Z" fill="#ffff00"/>
<path d="M323.20 428.88L319.68 426.79L319.68 430.97Z" fill="#ffff00"/>
<path d="M331.50 432.40L327.98 430.31L327.98 434.49Z" fill="#ffff00"/>
<path d="M339.80 435.86L336.28 433.77L336.28 437.95Z" fill="#ffff00"/>
<path d="M348.10 439.27L344.58 437.18L344.58 441.36Z" fill="#ffff00"/>
<path d="M356.40 442.61L352.88 440.52L352.88 444.70Z" fill="#ffff00"/>
<path d="M364.70 445.89L361.18 443.80L361.18 447.98Z" fill="#ffff00"/>
<path d="M373.00 449.12L369.48 447.03L369.48 451.21Z" fill="#ffff00"/>
<path d="M381.30 452.28L377.78 450.19L377.78 454.37Z" fill="#ffff00"/>
<path d="M389.60 455.38L386.08 453.29L386.08 457.47Z" fill="#ffff00"/>
<path d="M221.40 512.2v-1.6M221.40 384.5v1.6" stroke="#8a8a8a" stroke-width="0.7"/>
<text x="221.40" y="522.00" text-anchor="middle" class="tk" style="font-size:7.5px">0</text>
<path d="M262.90 512.2v-1.6M262.90 384.5v1.6" stroke="#8a8a8a" stroke-width="0.7"/>
<text x="262.90" y="522.00" text-anchor="middle" class="tk" style="font-size:7.5px">50</text>
<path d="M304.40 512.2v-1.6M304.40 384.5v1.6" stroke="#8a8a8a" stroke-width="0.7"/>
<text x="304.40" y="522.00" text-anchor="middle" class="tk" style="font-size:7.5px">100</text>
<path d="M345.90 512.2v-1.6M345.90 384.5v1.6" stroke="#8a8a8a" stroke-width="0.7"/>
<text x="345.90" y="522.00" text-anchor="middle" class="tk" style="font-size:7.5px">150</text>
<path d="M387.40 512.2v-1.6M387.40 384.5v1.6" stroke="#8a8a8a" stroke-width="0.7"/>
<text x="387.40" y="522.00" text-anchor="middle" class="tk" style="font-size:7.5px">200</text>
<path d="M221.4 512.20h1.6M387.4 512.20h-1.6" stroke="#8a8a8a" stroke-width="0.7"/>
<text x="219.40" y="515.20" text-anchor="end" class="tk" style="font-size:7.5px">0.7</text>
<path d="M221.4 486.66h1.6M387.4 486.66h-1.6" stroke="#8a8a8a" stroke-width="0.7"/>
<text x="219.40" y="489.66" text-anchor="end" class="tk" style="font-size:7.5px">0.75</text>
<path d="M221.4 461.12h1.6M387.4 461.12h-1.6" stroke="#8a8a8a" stroke-width="0.7"/>
<text x="219.40" y="464.12" text-anchor="end" class="tk" style="font-size:7.5px">0.8</text>
<path d="M221.4 435.58h1.6M387.4 435.58h-1.6" stroke="#8a8a8a" stroke-width="0.7"/>
<text x="219.40" y="438.58" text-anchor="end" class="tk" style="font-size:7.5px">0.85</text>
<path d="M221.4 410.04h1.6M387.4 410.04h-1.6" stroke="#8a8a8a" stroke-width="0.7"/>
<text x="219.40" y="413.04" text-anchor="end" class="tk" style="font-size:7.5px">0.9</text>
<path d="M221.4 384.50h1.6M387.4 384.50h-1.6" stroke="#8a8a8a" stroke-width="0.7"/>
<text x="219.40" y="387.50" text-anchor="end" class="tk" style="font-size:7.5px">0.95</text>
<text x="304.40" y="531.40" text-anchor="middle" class="al" style="font-size:7.9px">Time (hours)</text>
<text transform="translate(203.80 449.95) rotate(-90)" x="0" y="0" text-anchor="middle" class="al" style="font-size:7.6px">Steady state availability</text>
<rect x="341.0" y="388.2" width="42.19999999999999" height="43.5" fill="#fff" stroke="#8a8a8a" stroke-width="0.8"/>
<path d="M342.60 395.30h3.4M354.20 395.30H357.60" stroke="#ff0000" stroke-width="0.9" opacity="0.85"/>
<path d="M350.10 393.00L351.76 395.30L350.10 397.60L348.44 395.30Z" fill="none" stroke="#ff0000" stroke-width="0.95"/>
<text x="359.20" y="397.40" class="lg" style="font-size:7.2px">1/μ<tspan dy="2.5" style="font-size:5.63px;letter-spacing:0" textLength="12.25" lengthAdjust="spacingAndGlyphs">fgHW</tspan></text>
<path d="M342.60 405.20h3.4M354.20 405.20H357.60" stroke="#00ff00" stroke-width="0.9" opacity="0.85"/>
<path d="M350.10 402.90L350.69 404.39L352.29 404.49L351.05 405.51L351.45 407.06L350.10 406.20L348.75 407.06L349.15 405.51L347.91 404.49L349.51 404.39Z" fill="#00ff00"/>
<text x="359.20" y="407.30" class="lg" style="font-size:7.2px">1/μ<tspan dy="2.5" style="font-size:5.63px;letter-spacing:0" textLength="11.43" lengthAdjust="spacingAndGlyphs">fgSW</tspan></text>
<path d="M342.60 415.60h3.4M354.20 415.60H357.60" stroke="#0000ff" stroke-width="0.9" opacity="0.85"/>
<circle cx="350.10" cy="415.60" r="1.60" fill="#0000ff"/>
<text x="359.20" y="417.70" class="lg" style="font-size:7.2px">1/μ<tspan dy="2.5" style="font-size:5.63px;letter-spacing:0" textLength="9.80" lengthAdjust="spacingAndGlyphs">fHW</tspan></text>
<path d="M342.60 425.60h3.4M354.20 425.60H357.60" stroke="#ffff00" stroke-width="0.9" opacity="0.85"/>
<path d="M352.30 425.60L348.78 423.51L348.78 427.69Z" fill="#ffff00"/>
<text x="359.20" y="427.70" class="lg" style="font-size:7.2px">1/μ<tspan dy="2.5" style="font-size:5.63px;letter-spacing:0" textLength="7.90" lengthAdjust="spacingAndGlyphs">fOS</tspan></text>
<text x="262.30" y="545.40" class="cp" textLength="64.50" lengthAdjust="spacingAndGlyphs"><tspan font-weight="bold">(f)</tspan> MTTReq of Fog</text>
</g>
</svg>
</body></html>
